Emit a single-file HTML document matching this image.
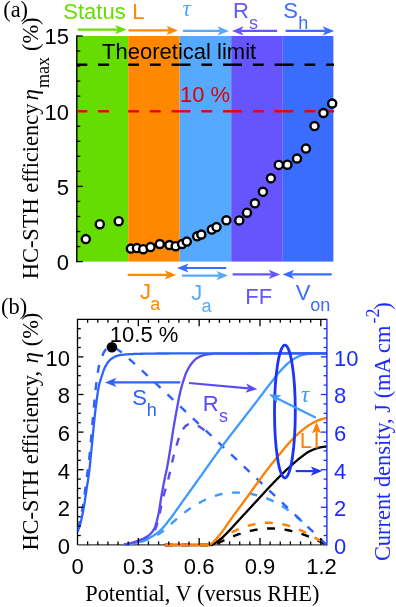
<!DOCTYPE html>
<html><head><meta charset="utf-8"><title>Figure</title>
<style>html,body{margin:0;padding:0;background:#fff;width:396px;height:607px;overflow:hidden}svg{display:block}</style>
</head><body>
<svg width="396" height="607" viewBox="0 0 396 607"><rect x="76.8" y="36.00" width="51.40" height="225.60" fill="#66dd00"/>
<rect x="128.2" y="36.00" width="51.50" height="225.60" fill="#ff8800"/>
<rect x="179.7" y="36.00" width="51.50" height="225.60" fill="#55aaff"/>
<rect x="231.2" y="36.00" width="51.60" height="225.60" fill="#6655ff"/>
<rect x="282.8" y="36.00" width="50.60" height="225.60" fill="#3a6cff"/>
<line x1="76.8" y1="35.40" x2="76.8" y2="262.20" stroke="#000" stroke-width="1.4"/>
<line x1="76.8" y1="261.60" x2="82.8" y2="261.60" stroke="#000" stroke-width="1.3"/>
<line x1="76.8" y1="246.56" x2="80.3" y2="246.56" stroke="#000" stroke-width="1.3"/>
<line x1="76.8" y1="231.52" x2="80.3" y2="231.52" stroke="#000" stroke-width="1.3"/>
<line x1="76.8" y1="216.48" x2="80.3" y2="216.48" stroke="#000" stroke-width="1.3"/>
<line x1="76.8" y1="201.44" x2="80.3" y2="201.44" stroke="#000" stroke-width="1.3"/>
<line x1="76.8" y1="186.40" x2="82.8" y2="186.40" stroke="#000" stroke-width="1.3"/>
<line x1="76.8" y1="171.36" x2="80.3" y2="171.36" stroke="#000" stroke-width="1.3"/>
<line x1="76.8" y1="156.32" x2="80.3" y2="156.32" stroke="#000" stroke-width="1.3"/>
<line x1="76.8" y1="141.28" x2="80.3" y2="141.28" stroke="#000" stroke-width="1.3"/>
<line x1="76.8" y1="126.24" x2="80.3" y2="126.24" stroke="#000" stroke-width="1.3"/>
<line x1="76.8" y1="111.20" x2="82.8" y2="111.20" stroke="#000" stroke-width="1.3"/>
<line x1="76.8" y1="96.16" x2="80.3" y2="96.16" stroke="#000" stroke-width="1.3"/>
<line x1="76.8" y1="81.12" x2="80.3" y2="81.12" stroke="#000" stroke-width="1.3"/>
<line x1="76.8" y1="66.08" x2="80.3" y2="66.08" stroke="#000" stroke-width="1.3"/>
<line x1="76.8" y1="51.04" x2="80.3" y2="51.04" stroke="#000" stroke-width="1.3"/>
<line x1="76.8" y1="36.00" x2="82.8" y2="36.00" stroke="#000" stroke-width="1.3"/>
<text x="68.9" y="44.30" font-family="Liberation Sans, Arial, sans-serif" font-size="22" text-anchor="end">15</text>
<text x="68.9" y="119.50" font-family="Liberation Sans, Arial, sans-serif" font-size="22" text-anchor="end">10</text>
<text x="68.9" y="194.70" font-family="Liberation Sans, Arial, sans-serif" font-size="22" text-anchor="end">5</text>
<text x="68.9" y="269.90" font-family="Liberation Sans, Arial, sans-serif" font-size="22" text-anchor="end">0</text>
<line x1="76.8" y1="64.7" x2="87.3" y2="64.7" stroke="#000" stroke-width="2.4"/>
<line x1="98.0" y1="64.7" x2="109.1" y2="64.7" stroke="#000" stroke-width="2.4"/>
<line x1="128.2" y1="64.7" x2="139.0" y2="64.7" stroke="#000" stroke-width="2.4"/>
<line x1="149.89999999999998" y1="64.7" x2="160.7" y2="64.7" stroke="#000" stroke-width="2.4"/>
<line x1="171.59999999999997" y1="64.7" x2="179.7" y2="64.7" stroke="#000" stroke-width="2.4"/>
<line x1="179.7" y1="64.7" x2="190.5" y2="64.7" stroke="#000" stroke-width="2.4"/>
<line x1="201.39999999999998" y1="64.7" x2="212.2" y2="64.7" stroke="#000" stroke-width="2.4"/>
<line x1="223.09999999999997" y1="64.7" x2="231.2" y2="64.7" stroke="#000" stroke-width="2.4"/>
<line x1="231.2" y1="64.7" x2="242.0" y2="64.7" stroke="#000" stroke-width="2.4"/>
<line x1="252.89999999999998" y1="64.7" x2="263.7" y2="64.7" stroke="#000" stroke-width="2.4"/>
<line x1="274.59999999999997" y1="64.7" x2="282.8" y2="64.7" stroke="#000" stroke-width="2.4"/>
<line x1="282.8" y1="64.7" x2="293.6" y2="64.7" stroke="#000" stroke-width="2.4"/>
<line x1="304.5" y1="64.7" x2="315.3" y2="64.7" stroke="#000" stroke-width="2.4"/>
<line x1="326.2" y1="64.7" x2="334" y2="64.7" stroke="#000" stroke-width="2.4"/>
<line x1="76.8" y1="111.3" x2="87.3" y2="111.3" stroke="#ee0000" stroke-width="2.4"/>
<line x1="98.0" y1="111.3" x2="109.1" y2="111.3" stroke="#ee0000" stroke-width="2.4"/>
<line x1="128.2" y1="111.3" x2="139.0" y2="111.3" stroke="#ee0000" stroke-width="2.4"/>
<line x1="149.89999999999998" y1="111.3" x2="160.7" y2="111.3" stroke="#ee0000" stroke-width="2.4"/>
<line x1="171.59999999999997" y1="111.3" x2="179.7" y2="111.3" stroke="#ee0000" stroke-width="2.4"/>
<line x1="179.7" y1="111.3" x2="190.5" y2="111.3" stroke="#ee0000" stroke-width="2.4"/>
<line x1="201.39999999999998" y1="111.3" x2="212.2" y2="111.3" stroke="#ee0000" stroke-width="2.4"/>
<line x1="223.09999999999997" y1="111.3" x2="231.2" y2="111.3" stroke="#ee0000" stroke-width="2.4"/>
<line x1="231.2" y1="111.3" x2="242.0" y2="111.3" stroke="#ee0000" stroke-width="2.4"/>
<line x1="252.89999999999998" y1="111.3" x2="263.7" y2="111.3" stroke="#ee0000" stroke-width="2.4"/>
<line x1="274.59999999999997" y1="111.3" x2="282.8" y2="111.3" stroke="#ee0000" stroke-width="2.4"/>
<line x1="282.8" y1="111.3" x2="293.6" y2="111.3" stroke="#ee0000" stroke-width="2.4"/>
<line x1="304.5" y1="111.3" x2="315.3" y2="111.3" stroke="#ee0000" stroke-width="2.4"/>
<line x1="326.2" y1="111.3" x2="334" y2="111.3" stroke="#ee0000" stroke-width="2.4"/>
<text x="102.1" y="58.8" font-family="Liberation Sans, Arial, sans-serif" font-size="22">Theoretical limit</text>
<text x="180" y="102.0" font-family="Liberation Sans, Arial, sans-serif" font-size="22" fill="#e00000">10 %</text>
<circle cx="85.8" cy="239.1" r="4.05" fill="#fff" stroke="#000" stroke-width="2.4"/>
<circle cx="99.8" cy="224.2" r="4.05" fill="#fff" stroke="#000" stroke-width="2.4"/>
<circle cx="118.7" cy="221.2" r="4.05" fill="#fff" stroke="#000" stroke-width="2.4"/>
<circle cx="130.9" cy="248.6" r="4.05" fill="#fff" stroke="#000" stroke-width="2.4"/>
<circle cx="136.9" cy="248.1" r="4.05" fill="#fff" stroke="#000" stroke-width="2.4"/>
<circle cx="143.2" cy="249.2" r="4.05" fill="#fff" stroke="#000" stroke-width="2.4"/>
<circle cx="150.5" cy="247.1" r="4.05" fill="#fff" stroke="#000" stroke-width="2.4"/>
<circle cx="159.8" cy="244.0" r="4.05" fill="#fff" stroke="#000" stroke-width="2.4"/>
<circle cx="169.4" cy="245.0" r="4.05" fill="#fff" stroke="#000" stroke-width="2.4"/>
<circle cx="175.7" cy="246.2" r="4.05" fill="#fff" stroke="#000" stroke-width="2.4"/>
<circle cx="182.1" cy="244.0" r="4.05" fill="#fff" stroke="#000" stroke-width="2.4"/>
<circle cx="186.8" cy="241.6" r="4.05" fill="#fff" stroke="#000" stroke-width="2.4"/>
<circle cx="197.2" cy="236.3" r="4.05" fill="#fff" stroke="#000" stroke-width="2.4"/>
<circle cx="201.3" cy="234.5" r="4.05" fill="#fff" stroke="#000" stroke-width="2.4"/>
<circle cx="211.8" cy="229.6" r="4.05" fill="#fff" stroke="#000" stroke-width="2.4"/>
<circle cx="216.5" cy="227.1" r="4.05" fill="#fff" stroke="#000" stroke-width="2.4"/>
<circle cx="226.4" cy="220.3" r="4.05" fill="#fff" stroke="#000" stroke-width="2.4"/>
<circle cx="239.3" cy="220.4" r="4.05" fill="#fff" stroke="#000" stroke-width="2.4"/>
<circle cx="247.0" cy="212.7" r="4.05" fill="#fff" stroke="#000" stroke-width="2.4"/>
<circle cx="254.9" cy="203.3" r="4.05" fill="#fff" stroke="#000" stroke-width="2.4"/>
<circle cx="262.9" cy="191.8" r="4.05" fill="#fff" stroke="#000" stroke-width="2.4"/>
<circle cx="270.9" cy="178.3" r="4.05" fill="#fff" stroke="#000" stroke-width="2.4"/>
<circle cx="278.8" cy="164.9" r="4.05" fill="#fff" stroke="#000" stroke-width="2.4"/>
<circle cx="287.4" cy="164.7" r="4.05" fill="#fff" stroke="#000" stroke-width="2.4"/>
<circle cx="297.0" cy="158.5" r="4.05" fill="#fff" stroke="#000" stroke-width="2.4"/>
<circle cx="305.9" cy="148.6" r="4.05" fill="#fff" stroke="#000" stroke-width="2.4"/>
<circle cx="314.5" cy="126.1" r="4.05" fill="#fff" stroke="#000" stroke-width="2.4"/>
<circle cx="323.4" cy="113.0" r="4.05" fill="#fff" stroke="#000" stroke-width="2.4"/>
<circle cx="332.2" cy="103.5" r="4.05" fill="#fff" stroke="#000" stroke-width="2.4"/>
<text x="63.3" y="18.6" font-family="Liberation Sans, Arial, sans-serif" font-size="22" fill="#66dd00" >Status</text>
<line x1="77.70" y1="29.60" x2="117.90" y2="29.60" stroke="#66dd00" stroke-width="2.1"/><polygon points="126.60,29.60 115.10,34.20 117.90,29.60 115.10,25.00" fill="#66dd00"/>
<text x="132.2" y="19.0" font-family="Liberation Sans, Arial, sans-serif" font-size="22" fill="#ff8800" >L</text>
<line x1="128.50" y1="30.40" x2="169.30" y2="30.40" stroke="#ff8800" stroke-width="2.1"/><polygon points="178.00,30.40 166.50,35.00 169.30,30.40 166.50,25.80" fill="#ff8800"/>
<text x="182.4" y="15.6" font-family="Liberation Serif, Times New Roman, serif" font-size="23" fill="#55aaff" font-style="italic">τ</text>
<line x1="183.00" y1="30.90" x2="220.30" y2="30.90" stroke="#55aaff" stroke-width="2.1"/><polygon points="229.00,30.90 217.50,35.50 220.30,30.90 217.50,26.30" fill="#55aaff"/>
<text x="233.1" y="17.5" font-family="Liberation Sans, Arial, sans-serif" font-size="22" fill="#6655ff" >R</text>
<text x="249.1" y="29.0" font-family="Liberation Sans, Arial, sans-serif" font-size="18" fill="#6655ff" >s</text>
<line x1="277.10" y1="30.90" x2="240.70" y2="30.90" stroke="#6655ff" stroke-width="2.1"/><polygon points="232.00,30.90 243.50,26.30 240.70,30.90 243.50,35.50" fill="#6655ff"/>
<text x="283.2" y="17.5" font-family="Liberation Sans, Arial, sans-serif" font-size="22" fill="#3a6cff" >S</text>
<text x="298.3" y="29.0" font-family="Liberation Sans, Arial, sans-serif" font-size="18" fill="#3a6cff" >h</text>
<line x1="285.60" y1="30.90" x2="325.50" y2="30.90" stroke="#3a6cff" stroke-width="2.1"/><polygon points="334.20,30.90 322.70,35.50 325.50,30.90 322.70,26.30" fill="#3a6cff"/>
<line x1="127.70" y1="274.90" x2="167.50" y2="274.90" stroke="#ff8800" stroke-width="2.1"/><polygon points="176.20,274.90 164.70,279.50 167.50,274.90 164.70,270.30" fill="#ff8800"/>
<line x1="226.20" y1="268.00" x2="185.70" y2="268.00" stroke="#3a6cff" stroke-width="2.1"/><polygon points="177.00,268.00 188.50,263.40 185.70,268.00 188.50,272.60" fill="#3a6cff"/>
<line x1="182.00" y1="275.60" x2="219.30" y2="275.60" stroke="#55aaff" stroke-width="2.1"/><polygon points="228.00,275.60 216.50,280.20 219.30,275.60 216.50,271.00" fill="#55aaff"/>
<line x1="232.60" y1="274.40" x2="271.50" y2="274.40" stroke="#6655ff" stroke-width="2.1"/><polygon points="280.20,274.40 268.70,279.00 271.50,274.40 268.70,269.80" fill="#6655ff"/>
<line x1="331.70" y1="274.40" x2="291.30" y2="274.40" stroke="#3a6cff" stroke-width="2.1"/><polygon points="282.60,274.40 294.10,269.80 291.30,274.40 294.10,279.00" fill="#3a6cff"/>
<text x="139.9" y="299.0" font-family="Liberation Sans, Arial, sans-serif" font-size="22" fill="#ff8800" >J</text>
<text x="150.3" y="309.8" font-family="Liberation Sans, Arial, sans-serif" font-size="18" fill="#ff8800" >a</text>
<text x="191.3" y="300.0" font-family="Liberation Sans, Arial, sans-serif" font-size="22" fill="#55aaff" >J</text>
<text x="201.4" y="311.8" font-family="Liberation Sans, Arial, sans-serif" font-size="18" fill="#55aaff" >a</text>
<text x="245.2" y="303.7" font-family="Liberation Sans, Arial, sans-serif" font-size="22" fill="#6655ff" >FF</text>
<text x="295.7" y="299.8" font-family="Liberation Sans, Arial, sans-serif" font-size="22" fill="#3a6cff" >V</text>
<text x="310.2" y="310.8" font-family="Liberation Sans, Arial, sans-serif" font-size="18" fill="#3a6cff" >on</text>
<text x="3.2" y="17.3" font-family="Liberation Serif, Times New Roman, serif" font-size="22.4" fill="#000" >(a)</text>
<text transform="translate(37.8,279.2) rotate(-90)" font-family="Liberation Serif, Times New Roman, serif" font-size="22.4" >HC-STH efficiency</text>
<text transform="translate(37.8,100.2) rotate(-90)" font-family="Liberation Serif, Times New Roman, serif" font-size="22.4" font-style="italic">η</text>
<text transform="translate(49.2,87.9) rotate(-90)" font-family="Liberation Serif, Times New Roman, serif" font-size="18" >max</text>
<text transform="translate(37.8,51.0) rotate(-90)" font-family="Liberation Serif, Times New Roman, serif" font-size="22.4" >(%)</text>
<clipPath id="cb"><rect x="77.5" y="319.1" width="249.4" height="228"/></clipPath>
<path d="M326.89,319.29999999999995 L77.5,319.29999999999995 L77.5,544.9" fill="none" stroke="#000" stroke-width="1.3"/>
<line x1="77.5" y1="544.9" x2="326.89" y2="544.9" stroke="#383838" stroke-width="1.3"/>
<g clip-path="url(#cb)" fill="none" stroke-linejoin="round">
<path d="M164.80,544.98 L165.21,544.98 L165.61,544.98 L166.02,544.98 L166.43,544.98 L166.83,544.98 L167.24,544.98 L167.64,544.98 L168.05,544.98 L168.46,544.98 L168.86,544.98 L169.27,544.98 L169.68,544.98 L170.08,544.98 L170.49,544.98 L170.89,544.98 L171.30,544.98 L171.71,544.98 L172.11,544.98 L172.52,544.98 L172.93,544.98 L173.33,544.98 L173.74,544.98 L174.14,544.98 L174.55,544.98 L174.96,544.97 L175.36,544.97 L175.77,544.97 L176.18,544.97 L176.58,544.97 L176.99,544.97 L177.39,544.97 L177.80,544.97 L178.21,544.97 L178.61,544.97 L179.02,544.97 L179.43,544.97 L179.83,544.97 L180.24,544.97 L180.64,544.97 L181.05,544.97 L181.46,544.97 L181.86,544.97 L182.27,544.97 L182.68,544.97 L183.08,544.97 L183.49,544.97 L183.89,544.97 L184.30,544.97 L184.71,544.97 L185.11,544.97 L185.52,544.97 L185.93,544.97 L186.33,544.97 L186.74,544.97 L187.14,544.97 L187.55,544.97 L187.96,544.97 L188.36,544.97 L188.77,544.97 L189.18,544.97 L189.58,544.97 L189.99,544.97 L190.39,544.97 L190.80,544.97 L191.21,544.97 L191.61,544.97 L192.02,544.97 L192.43,544.97 L192.83,544.97 L193.24,544.97 L193.64,544.97 L194.05,544.97 L194.46,544.97 L194.86,544.97 L195.27,544.96 L195.68,544.96 L196.08,544.96 L196.49,544.96 L196.89,544.96 L197.30,544.96 L197.71,544.96 L198.11,544.96 L198.52,544.96 L198.93,544.96 L199.33,544.96 L199.74,544.96 L200.15,544.96 L200.55,544.96 L200.96,544.96 L201.36,544.96 L201.77,544.96 L202.18,544.96 L202.58,544.96 L202.99,544.96 L203.40,544.96 L203.80,544.96 L204.21,544.96 L204.61,544.96 L205.02,544.96 L205.43,544.96 L205.83,544.96 L206.24,544.96 L206.65,544.96 L207.05,544.96 L207.46,544.96 L207.86,544.96 L208.27,544.96 L208.68,544.96 L209.08,544.96 L209.49,544.96 L209.90,544.96 L210.30,544.96 L210.71,544.96 L211.11,544.96 L211.52,544.93 L211.93,544.87 L212.33,544.78 L212.74,544.68 L213.15,544.56 L213.55,544.43 L213.96,544.30 L214.36,544.16 L214.77,544.03 L215.18,543.91 L215.58,543.78 L215.99,543.65 L216.40,543.51 L216.80,543.36 L217.21,543.21 L217.61,543.06 L218.02,542.90 L218.43,542.74 L218.83,542.57 L219.24,542.41 L219.65,542.25 L220.05,542.08 L220.46,541.92 L220.86,541.75 L221.27,541.58 L221.68,541.40 L222.08,541.23 L222.49,541.05 L222.90,540.87 L223.30,540.68 L223.71,540.50 L224.11,540.32 L224.52,540.14 L224.93,539.95 L225.33,539.77 L225.74,539.59 L226.15,539.41 L226.55,539.23 L226.96,539.05 L227.36,538.87 L227.77,538.70 L228.18,538.52 L228.58,538.34 L228.99,538.16 L229.40,537.98 L229.80,537.80 L230.21,537.62 L230.62,537.45 L231.02,537.27 L231.43,537.10 L231.83,536.92 L232.24,536.75 L232.65,536.58 L233.05,536.41 L233.46,536.24 L233.87,536.07 L234.27,535.90 L234.68,535.74 L235.08,535.57 L235.49,535.41 L235.90,535.25 L236.30,535.09 L236.71,534.94 L237.12,534.78 L237.52,534.63 L237.93,534.48 L238.33,534.34 L238.74,534.19 L239.15,534.05 L239.55,533.91 L239.96,533.77 L240.37,533.64 L240.77,533.50 L241.18,533.37 L241.58,533.24 L241.99,533.11 L242.40,532.99 L242.80,532.86 L243.21,532.74 L243.62,532.62 L244.02,532.50 L244.43,532.38 L244.83,532.26 L245.24,532.15 L245.65,532.04 L246.05,531.93 L246.46,531.82 L246.87,531.71 L247.27,531.60 L247.68,531.50 L248.08,531.40 L248.49,531.30 L248.90,531.20 L249.30,531.10 L249.71,531.01 L250.12,530.92 L250.52,530.82 L250.93,530.73 L251.33,530.65 L251.74,530.56 L252.15,530.48 L252.55,530.39 L252.96,530.31 L253.37,530.23 L253.77,530.15 L254.18,530.08 L254.58,530.00 L254.99,529.93 L255.40,529.86 L255.80,529.79 L256.21,529.73 L256.62,529.66 L257.02,529.60 L257.43,529.53 L257.83,529.47 L258.24,529.41 L258.65,529.36 L259.05,529.30 L259.46,529.25 L259.87,529.19 L260.27,529.14 L260.68,529.09 L261.08,529.05 L261.49,529.00 L261.90,528.96 L262.30,528.91 L262.71,528.87 L263.12,528.84 L263.52,528.80 L263.93,528.76 L264.34,528.73 L264.74,528.70 L265.15,528.67 L265.55,528.65 L265.96,528.62 L266.37,528.60 L266.77,528.58 L267.18,528.56 L267.59,528.54 L267.99,528.53 L268.40,528.52 L268.80,528.50 L269.21,528.50 L269.62,528.49 L270.02,528.49 L270.43,528.48 L270.84,528.48 L271.24,528.49 L271.65,528.49 L272.05,528.49 L272.46,528.50 L272.87,528.51 L273.27,528.52 L273.68,528.53 L274.09,528.55 L274.49,528.57 L274.90,528.58 L275.30,528.60 L275.71,528.63 L276.12,528.65 L276.52,528.68 L276.93,528.71 L277.34,528.74 L277.74,528.77 L278.15,528.80 L278.55,528.84 L278.96,528.88 L279.37,528.92 L279.77,528.96 L280.18,529.01 L280.59,529.05 L280.99,529.10 L281.40,529.15 L281.80,529.20 L282.21,529.26 L282.62,529.31 L283.02,529.37 L283.43,529.43 L283.84,529.49 L284.24,529.56 L284.65,529.62 L285.05,529.69 L285.46,529.76 L285.87,529.83 L286.27,529.90 L286.68,529.97 L287.09,530.05 L287.49,530.13 L287.90,530.21 L288.30,530.29 L288.71,530.37 L289.12,530.46 L289.52,530.54 L289.93,530.63 L290.34,530.72 L290.74,530.81 L291.15,530.91 L291.55,531.00 L291.96,531.10 L292.37,531.20 L292.77,531.30 L293.18,531.40 L293.59,531.50 L293.99,531.61 L294.40,531.71 L294.81,531.82 L295.21,531.93 L295.62,532.05 L296.02,532.16 L296.43,532.27 L296.84,532.39 L297.24,532.51 L297.65,532.63 L298.06,532.76 L298.46,532.88 L298.87,533.01 L299.27,533.14 L299.68,533.27 L300.09,533.40 L300.49,533.53 L300.90,533.67 L301.31,533.80 L301.71,533.94 L302.12,534.08 L302.52,534.22 L302.93,534.36 L303.34,534.50 L303.74,534.65 L304.15,534.79 L304.56,534.94 L304.96,535.09 L305.37,535.24 L305.77,535.39 L306.18,535.55 L306.59,535.70 L306.99,535.86 L307.40,536.02 L307.81,536.18 L308.21,536.35 L308.62,536.51 L309.02,536.68 L309.43,536.84 L309.84,537.01 L310.24,537.19 L310.65,537.36 L311.06,537.53 L311.46,537.71 L311.87,537.88 L312.27,538.06 L312.68,538.24 L313.09,538.42 L313.49,538.60 L313.90,538.78 L314.31,538.96 L314.71,539.14 L315.12,539.32 L315.52,539.51 L315.93,539.69 L316.34,539.88 L316.74,540.07 L317.15,540.25 L317.56,540.44 L317.96,540.63 L318.37,540.82 L318.77,541.01 L319.18,541.20 L319.59,541.39 L319.99,541.58 L320.40,541.78 L320.81,541.97 L321.21,542.16 L321.62,542.36 L322.02,542.55 L322.43,542.75 L322.84,542.94 L323.24,543.14 L323.65,543.33 L324.06,543.53 L324.46,543.72 L324.87,543.92 L325.27,544.11 L325.68,544.31 L326.09,544.51 L326.49,544.71 L326.90,544.90" stroke="#000" stroke-width="2.4" stroke-dasharray="8 9.5"/>
<path d="M164.80,544.98 L165.21,544.98 L165.61,544.98 L166.02,544.98 L166.43,544.98 L166.83,544.98 L167.24,544.98 L167.64,544.98 L168.05,544.98 L168.46,544.98 L168.86,544.98 L169.27,544.98 L169.68,544.98 L170.08,544.98 L170.49,544.98 L170.89,544.98 L171.30,544.98 L171.71,544.98 L172.11,544.98 L172.52,544.98 L172.93,544.98 L173.33,544.98 L173.74,544.98 L174.14,544.98 L174.55,544.98 L174.96,544.97 L175.36,544.97 L175.77,544.97 L176.18,544.97 L176.58,544.97 L176.99,544.97 L177.39,544.97 L177.80,544.97 L178.21,544.97 L178.61,544.97 L179.02,544.97 L179.43,544.97 L179.83,544.97 L180.24,544.97 L180.64,544.97 L181.05,544.97 L181.46,544.97 L181.86,544.97 L182.27,544.97 L182.68,544.97 L183.08,544.97 L183.49,544.97 L183.89,544.97 L184.30,544.97 L184.71,544.97 L185.11,544.97 L185.52,544.97 L185.93,544.97 L186.33,544.97 L186.74,544.97 L187.14,544.97 L187.55,544.97 L187.96,544.97 L188.36,544.97 L188.77,544.97 L189.18,544.97 L189.58,544.97 L189.99,544.97 L190.39,544.97 L190.80,544.97 L191.21,544.97 L191.61,544.97 L192.02,544.97 L192.43,544.97 L192.83,544.97 L193.24,544.97 L193.64,544.97 L194.05,544.97 L194.46,544.97 L194.86,544.97 L195.27,544.96 L195.68,544.96 L196.08,544.96 L196.49,544.96 L196.89,544.96 L197.30,544.96 L197.71,544.96 L198.11,544.96 L198.52,544.96 L198.93,544.96 L199.33,544.96 L199.74,544.96 L200.15,544.96 L200.55,544.96 L200.96,544.96 L201.36,544.96 L201.77,544.96 L202.18,544.96 L202.58,544.96 L202.99,544.96 L203.40,544.96 L203.80,544.96 L204.21,544.96 L204.61,544.96 L205.02,544.96 L205.43,544.96 L205.83,544.96 L206.24,544.96 L206.65,544.96 L207.05,544.96 L207.46,544.96 L207.86,544.96 L208.27,544.93 L208.68,544.87 L209.08,544.79 L209.49,544.70 L209.90,544.59 L210.30,544.47 L210.71,544.36 L211.11,544.24 L211.52,544.10 L211.93,543.93 L212.33,543.75 L212.74,543.55 L213.15,543.33 L213.55,543.11 L213.96,542.88 L214.36,542.65 L214.77,542.43 L215.18,542.21 L215.58,541.99 L215.99,541.77 L216.40,541.54 L216.80,541.31 L217.21,541.07 L217.61,540.84 L218.02,540.60 L218.43,540.35 L218.83,540.11 L219.24,539.87 L219.65,539.62 L220.05,539.38 L220.46,539.13 L220.86,538.88 L221.27,538.64 L221.68,538.39 L222.08,538.15 L222.49,537.90 L222.90,537.64 L223.30,537.39 L223.71,537.13 L224.11,536.87 L224.52,536.61 L224.93,536.34 L225.33,536.08 L225.74,535.82 L226.15,535.56 L226.55,535.30 L226.96,535.05 L227.36,534.79 L227.77,534.54 L228.18,534.29 L228.58,534.05 L228.99,533.81 L229.40,533.58 L229.80,533.35 L230.21,533.13 L230.62,532.91 L231.02,532.69 L231.43,532.47 L231.83,532.26 L232.24,532.05 L232.65,531.85 L233.05,531.65 L233.46,531.45 L233.87,531.25 L234.27,531.05 L234.68,530.86 L235.08,530.67 L235.49,530.48 L235.90,530.30 L236.30,530.12 L236.71,529.94 L237.12,529.76 L237.52,529.59 L237.93,529.41 L238.33,529.24 L238.74,529.07 L239.15,528.91 L239.55,528.75 L239.96,528.58 L240.37,528.43 L240.77,528.27 L241.18,528.11 L241.58,527.96 L241.99,527.81 L242.40,527.66 L242.80,527.52 L243.21,527.37 L243.62,527.23 L244.02,527.09 L244.43,526.95 L244.83,526.82 L245.24,526.68 L245.65,526.55 L246.05,526.42 L246.46,526.29 L246.87,526.17 L247.27,526.04 L247.68,525.92 L248.08,525.80 L248.49,525.68 L248.90,525.56 L249.30,525.45 L249.71,525.34 L250.12,525.23 L250.52,525.12 L250.93,525.02 L251.33,524.91 L251.74,524.81 L252.15,524.71 L252.55,524.62 L252.96,524.52 L253.37,524.43 L253.77,524.34 L254.18,524.26 L254.58,524.17 L254.99,524.09 L255.40,524.01 L255.80,523.93 L256.21,523.85 L256.62,523.78 L257.02,523.70 L257.43,523.63 L257.83,523.57 L258.24,523.50 L258.65,523.44 L259.05,523.38 L259.46,523.33 L259.87,523.27 L260.27,523.22 L260.68,523.18 L261.08,523.13 L261.49,523.09 L261.90,523.05 L262.30,523.02 L262.71,522.98 L263.12,522.95 L263.52,522.92 L263.93,522.90 L264.34,522.87 L264.74,522.85 L265.15,522.83 L265.55,522.81 L265.96,522.80 L266.37,522.79 L266.77,522.78 L267.18,522.77 L267.59,522.77 L267.99,522.77 L268.40,522.77 L268.80,522.77 L269.21,522.78 L269.62,522.79 L270.02,522.80 L270.43,522.81 L270.84,522.83 L271.24,522.84 L271.65,522.86 L272.05,522.89 L272.46,522.91 L272.87,522.94 L273.27,522.97 L273.68,523.00 L274.09,523.03 L274.49,523.07 L274.90,523.11 L275.30,523.15 L275.71,523.19 L276.12,523.24 L276.52,523.29 L276.93,523.34 L277.34,523.39 L277.74,523.44 L278.15,523.50 L278.55,523.56 L278.96,523.62 L279.37,523.69 L279.77,523.76 L280.18,523.82 L280.59,523.90 L280.99,523.97 L281.40,524.04 L281.80,524.12 L282.21,524.20 L282.62,524.28 L283.02,524.36 L283.43,524.45 L283.84,524.54 L284.24,524.63 L284.65,524.72 L285.05,524.81 L285.46,524.91 L285.87,525.01 L286.27,525.11 L286.68,525.21 L287.09,525.32 L287.49,525.43 L287.90,525.54 L288.30,525.66 L288.71,525.77 L289.12,525.89 L289.52,526.01 L289.93,526.14 L290.34,526.27 L290.74,526.40 L291.15,526.53 L291.55,526.66 L291.96,526.80 L292.37,526.94 L292.77,527.08 L293.18,527.22 L293.59,527.37 L293.99,527.51 L294.40,527.66 L294.81,527.81 L295.21,527.97 L295.62,528.12 L296.02,528.28 L296.43,528.44 L296.84,528.60 L297.24,528.76 L297.65,528.93 L298.06,529.10 L298.46,529.27 L298.87,529.44 L299.27,529.62 L299.68,529.79 L300.09,529.97 L300.49,530.16 L300.90,530.34 L301.31,530.52 L301.71,530.71 L302.12,530.90 L302.52,531.09 L302.93,531.28 L303.34,531.47 L303.74,531.66 L304.15,531.86 L304.56,532.06 L304.96,532.26 L305.37,532.46 L305.77,532.66 L306.18,532.86 L306.59,533.07 L306.99,533.28 L307.40,533.49 L307.81,533.70 L308.21,533.91 L308.62,534.13 L309.02,534.34 L309.43,534.56 L309.84,534.78 L310.24,535.00 L310.65,535.22 L311.06,535.45 L311.46,535.67 L311.87,535.90 L312.27,536.13 L312.68,536.35 L313.09,536.58 L313.49,536.81 L313.90,537.05 L314.31,537.28 L314.71,537.51 L315.12,537.75 L315.52,537.98 L315.93,538.22 L316.34,538.46 L316.74,538.70 L317.15,538.94 L317.56,539.18 L317.96,539.42 L318.37,539.66 L318.77,539.90 L319.18,540.15 L319.59,540.39 L319.99,540.64 L320.40,540.89 L320.81,541.13 L321.21,541.38 L321.62,541.63 L322.02,541.88 L322.43,542.13 L322.84,542.38 L323.24,542.63 L323.65,542.88 L324.06,543.13 L324.46,543.38 L324.87,543.64 L325.27,543.89 L325.68,544.14 L326.09,544.39 L326.49,544.65 L326.90,544.90" stroke="#ff7f00" stroke-width="2.4" stroke-dasharray="8 9.5"/>
<path d="M124.00,544.80 L124.51,544.77 L125.02,544.74 L125.53,544.70 L126.03,544.65 L126.54,544.60 L127.05,544.54 L127.56,544.48 L128.07,544.41 L128.58,544.34 L129.09,544.27 L129.59,544.19 L130.10,544.11 L130.61,544.02 L131.12,543.93 L131.63,543.83 L132.14,543.74 L132.64,543.64 L133.15,543.54 L133.66,543.43 L134.17,543.32 L134.68,543.22 L135.19,543.10 L135.70,542.99 L136.20,542.88 L136.71,542.76 L137.22,542.65 L137.73,542.53 L138.24,542.41 L138.75,542.29 L139.26,542.17 L139.76,542.06 L140.27,541.94 L140.78,541.81 L141.29,541.68 L141.80,541.54 L142.31,541.39 L142.82,541.24 L143.32,541.08 L143.83,540.91 L144.34,540.74 L144.85,540.56 L145.36,540.37 L145.87,540.19 L146.37,539.99 L146.88,539.80 L147.39,539.60 L147.90,539.39 L148.41,539.19 L148.92,538.98 L149.43,538.77 L149.93,538.56 L150.44,538.34 L150.95,538.12 L151.46,537.90 L151.97,537.66 L152.48,537.43 L152.99,537.18 L153.49,536.93 L154.00,536.67 L154.51,536.41 L155.02,536.14 L155.53,535.87 L156.04,535.59 L156.55,535.31 L157.05,535.01 L157.56,534.72 L158.07,534.41 L158.58,534.10 L159.09,533.79 L159.60,533.47 L160.11,533.14 L160.61,532.80 L161.12,532.44 L161.63,532.07 L162.14,531.68 L162.65,531.28 L163.16,530.87 L163.66,530.44 L164.17,530.01 L164.68,529.57 L165.19,529.13 L165.70,528.68 L166.21,528.22 L166.72,527.77 L167.22,527.31 L167.73,526.85 L168.24,526.40 L168.75,525.95 L169.26,525.50 L169.77,525.06 L170.28,524.62 L170.78,524.18 L171.29,523.73 L171.80,523.28 L172.31,522.83 L172.82,522.37 L173.33,521.92 L173.84,521.46 L174.34,521.00 L174.85,520.54 L175.36,520.08 L175.87,519.62 L176.38,519.16 L176.89,518.71 L177.39,518.26 L177.90,517.82 L178.41,517.38 L178.92,516.95 L179.43,516.52 L179.94,516.10 L180.45,515.69 L180.95,515.28 L181.46,514.88 L181.97,514.47 L182.48,514.08 L182.99,513.68 L183.50,513.29 L184.01,512.90 L184.51,512.52 L185.02,512.14 L185.53,511.76 L186.04,511.39 L186.55,511.02 L187.06,510.65 L187.57,510.29 L188.07,509.93 L188.58,509.57 L189.09,509.22 L189.60,508.87 L190.11,508.52 L190.62,508.18 L191.12,507.84 L191.63,507.51 L192.14,507.18 L192.65,506.85 L193.16,506.53 L193.67,506.20 L194.18,505.89 L194.68,505.57 L195.19,505.26 L195.70,504.96 L196.21,504.65 L196.72,504.35 L197.23,504.06 L197.74,503.77 L198.24,503.48 L198.75,503.19 L199.26,502.91 L199.77,502.63 L200.28,502.36 L200.79,502.08 L201.30,501.81 L201.80,501.55 L202.31,501.29 L202.82,501.03 L203.33,500.77 L203.84,500.51 L204.35,500.26 L204.85,500.01 L205.36,499.77 L205.87,499.53 L206.38,499.29 L206.89,499.06 L207.40,498.83 L207.91,498.60 L208.41,498.38 L208.92,498.16 L209.43,497.94 L209.94,497.73 L210.45,497.52 L210.96,497.32 L211.47,497.12 L211.97,496.92 L212.48,496.73 L212.99,496.54 L213.50,496.36 L214.01,496.18 L214.52,496.00 L215.03,495.83 L215.53,495.67 L216.04,495.50 L216.55,495.35 L217.06,495.19 L217.57,495.05 L218.08,494.90 L218.58,494.76 L219.09,494.63 L219.60,494.50 L220.11,494.37 L220.62,494.25 L221.13,494.14 L221.64,494.03 L222.14,493.92 L222.65,493.82 L223.16,493.72 L223.67,493.63 L224.18,493.54 L224.69,493.46 L225.20,493.38 L225.70,493.30 L226.21,493.23 L226.72,493.16 L227.23,493.10 L227.74,493.04 L228.25,492.98 L228.76,492.93 L229.26,492.88 L229.77,492.84 L230.28,492.80 L230.79,492.76 L231.30,492.72 L231.81,492.69 L232.32,492.67 L232.82,492.64 L233.33,492.62 L233.84,492.61 L234.35,492.59 L234.86,492.58 L235.37,492.58 L235.87,492.57 L236.38,492.57 L236.89,492.58 L237.40,492.58 L237.91,492.59 L238.42,492.60 L238.93,492.62 L239.43,492.64 L239.94,492.66 L240.45,492.68 L240.96,492.71 L241.47,492.74 L241.98,492.77 L242.49,492.81 L242.99,492.85 L243.50,492.90 L244.01,492.95 L244.52,493.00 L245.03,493.05 L245.54,493.11 L246.05,493.17 L246.55,493.24 L247.06,493.31 L247.57,493.38 L248.08,493.45 L248.59,493.53 L249.10,493.61 L249.60,493.70 L250.11,493.79 L250.62,493.88 L251.13,493.97 L251.64,494.07 L252.15,494.17 L252.66,494.28 L253.16,494.38 L253.67,494.49 L254.18,494.61 L254.69,494.72 L255.20,494.84 L255.71,494.96 L256.22,495.09 L256.72,495.22 L257.23,495.35 L257.74,495.48 L258.25,495.62 L258.76,495.76 L259.27,495.90 L259.78,496.05 L260.28,496.20 L260.79,496.35 L261.30,496.50 L261.81,496.66 L262.32,496.83 L262.83,496.99 L263.33,497.16 L263.84,497.33 L264.35,497.51 L264.86,497.69 L265.37,497.88 L265.88,498.06 L266.39,498.25 L266.89,498.45 L267.40,498.65 L267.91,498.85 L268.42,499.06 L268.93,499.27 L269.44,499.48 L269.95,499.70 L270.45,499.93 L270.96,500.15 L271.47,500.38 L271.98,500.61 L272.49,500.84 L273.00,501.08 L273.51,501.31 L274.01,501.56 L274.52,501.80 L275.03,502.05 L275.54,502.31 L276.05,502.57 L276.56,502.83 L277.06,503.10 L277.57,503.37 L278.08,503.65 L278.59,503.94 L279.10,504.23 L279.61,504.53 L280.12,504.83 L280.62,505.14 L281.13,505.45 L281.64,505.77 L282.15,506.09 L282.66,506.41 L283.17,506.74 L283.68,507.07 L284.18,507.40 L284.69,507.74 L285.20,508.09 L285.71,508.43 L286.22,508.78 L286.73,509.14 L287.24,509.50 L287.74,509.87 L288.25,510.24 L288.76,510.62 L289.27,511.00 L289.78,511.38 L290.29,511.77 L290.79,512.17 L291.30,512.57 L291.81,512.97 L292.32,513.37 L292.83,513.78 L293.34,514.19 L293.85,514.60 L294.35,515.01 L294.86,515.43 L295.37,515.85 L295.88,516.27 L296.39,516.70 L296.90,517.13 L297.41,517.56 L297.91,518.00 L298.42,518.43 L298.93,518.88 L299.44,519.32 L299.95,519.77 L300.46,520.23 L300.97,520.68 L301.47,521.14 L301.98,521.60 L302.49,522.06 L303.00,522.52 L303.51,522.98 L304.02,523.44 L304.53,523.91" stroke="#3d9bff" stroke-width="2.4" stroke-dasharray="8 9.5"/>
<path d="M124.00,544.70 L124.51,544.62 L125.02,544.53 L125.53,544.44 L126.03,544.34 L126.54,544.24 L127.05,544.13 L127.56,544.02 L128.07,543.90 L128.58,543.78 L129.09,543.66 L129.59,543.53 L130.10,543.40 L130.61,543.26 L131.12,543.13 L131.63,542.99 L132.14,542.84 L132.64,542.70 L133.15,542.55 L133.66,542.40 L134.17,542.25 L134.68,542.09 L135.19,541.94 L135.70,541.78 L136.20,541.62 L136.71,541.46 L137.22,541.30 L137.73,541.14 L138.24,540.98 L138.75,540.82 L139.26,540.65 L139.76,540.49 L140.27,540.32 L140.78,540.15 L141.29,539.97 L141.80,539.79 L142.31,539.60 L142.82,539.41 L143.32,539.21 L143.83,539.01 L144.34,538.79 L144.85,538.57 L145.36,538.34 L145.87,538.10 L146.37,537.85 L146.88,537.59 L147.39,537.31 L147.90,537.03 L148.41,536.73 L148.92,536.42 L149.43,536.08 L149.93,535.71 L150.44,535.31 L150.95,534.88 L151.46,534.42 L151.97,533.92 L152.48,533.37 L152.99,532.78 L153.49,532.14 L154.00,531.45 L154.51,530.69 L155.02,529.74 L155.53,528.58 L156.04,527.25 L156.55,525.77 L157.05,524.17 L157.56,522.48 L158.07,520.72 L158.58,518.89 L159.09,516.72 L159.60,514.26 L160.11,511.64 L160.61,509.01 L161.12,506.50 L161.63,504.22 L162.14,502.02 L162.65,499.87 L163.16,497.78 L163.66,495.76 L164.17,493.81 L164.68,491.96 L165.19,490.25 L165.70,488.62 L166.21,486.99 L166.72,485.28 L167.22,483.42 L167.73,481.45 L168.24,479.39 L168.75,477.28 L169.26,475.12 L169.77,472.94 L170.28,470.76 L170.78,468.49 L171.29,466.16 L171.80,463.82 L172.31,461.51 L172.82,459.30 L173.33,457.21 L173.84,455.20 L174.34,453.24 L174.85,451.34 L175.36,449.50 L175.87,447.71 L176.38,445.96 L176.89,444.24 L177.39,442.54 L177.90,440.88 L178.41,439.28 L178.92,437.78 L179.43,436.40 L179.94,435.15 L180.45,433.99 L180.95,432.92 L181.46,431.91 L181.97,430.98 L182.48,430.11 L182.99,429.31 L183.50,428.55 L184.01,427.83 L184.51,427.16 L185.02,426.56 L185.53,426.03 L186.04,425.60 L186.55,425.25 L187.06,424.94 L187.57,424.67 L188.07,424.43 L188.58,424.24 L189.09,424.08 L189.60,423.96 L190.11,423.88 L190.62,423.83 L191.12,423.83 L191.63,423.86 L192.14,423.90 L192.65,423.95 L193.16,424.02 L193.67,424.11 L194.18,424.21 L194.68,424.34 L195.19,424.49 L195.70,424.66 L196.21,424.86 L196.72,425.08 L197.23,425.33 L197.74,425.61 L198.24,425.91 L198.75,426.22 L199.26,426.54 L199.77,426.87 L200.28,427.20 L200.79,427.54 L201.30,427.89 L201.80,428.25 L202.31,428.61 L202.82,428.99 L203.33,429.37 L203.84,429.76 L204.35,430.15 L204.85,430.56 L205.36,430.97 L205.87,431.39" stroke="#5a4cf0" stroke-width="2.4" stroke-dasharray="8 9.5"/>
<path d="M77.60,528.79 L78.22,526.96 L78.85,524.86 L79.47,522.52 L80.10,519.97 L80.72,517.26 L81.35,514.25 L81.97,510.94 L82.60,507.35 L83.22,503.55 L83.85,499.58 L84.47,495.26 L85.10,490.49 L85.72,485.52 L86.35,480.61 L86.97,476.02 L87.60,471.66 L88.22,467.19 L88.85,462.29 L89.47,456.56 L90.10,449.78 L90.72,442.49 L91.35,435.27 L91.97,428.34 L92.60,421.23 L93.22,414.08 L93.85,407.05 L94.47,400.32 L95.09,394.05 L95.72,388.40 L96.34,383.26 L96.97,378.33 L97.59,373.76 L98.22,369.73 L98.84,366.39 L99.47,363.85 L100.09,361.90 L100.72,360.25 L101.34,358.67 L101.97,356.99 L102.59,355.30 L103.22,353.72 L103.84,352.37 L104.47,351.30 L105.09,350.38 L105.72,349.61 L106.34,348.96 L106.97,348.41 L107.59,347.93 L108.22,347.56 L108.84,347.31 L109.47,347.19 L110.09,347.14 L110.72,347.15 L111.34,347.20 L111.96,347.30 L112.59,347.43 L113.21,347.58 L113.84,347.75 L114.46,347.94 L115.09,348.18 L115.71,348.47 L116.34,348.83 L116.96,349.20 L117.59,349.59 L118.21,350.00 L118.84,350.42 L119.46,350.86 L120.09,351.32 L120.71,351.80 L121.34,352.30 L121.96,352.81 L122.59,353.33 L123.21,353.85 L123.84,354.37 L124.46,354.89 L125.09,355.42 L125.71,355.95 L126.34,356.49 L126.96,357.03 L127.58,357.57 L128.21,358.11 L128.83,358.65 L129.46,359.20 L130.08,359.75 L130.71,360.31 L131.33,360.86 L131.96,361.42 L132.58,361.98 L133.21,362.54 L133.83,363.10 L134.46,363.67 L135.08,364.24 L135.71,364.81 L136.33,365.38 L136.96,365.95 L137.58,366.53 L138.21,367.10 L138.83,367.67 L139.46,368.25 L140.08,368.82 L140.71,369.40 L141.33,369.97 L141.96,370.55 L142.58,371.12 L143.21,371.70 L143.83,372.28 L144.45,372.85 L145.08,373.43 L145.70,374.01 L146.33,374.59 L146.95,375.17 L147.58,375.75 L148.20,376.33 L148.83,376.91 L149.45,377.49 L150.08,378.07 L150.70,378.65 L151.33,379.23 L151.95,379.81 L152.58,380.40 L153.20,380.98 L153.83,381.56 L154.45,382.15 L155.08,382.73 L155.70,383.32 L156.33,383.90 L156.95,384.49 L157.58,385.08 L158.20,385.66 L158.83,386.25 L159.45,386.84 L160.08,387.43 L160.70,388.01 L161.32,388.60 L161.95,389.19 L162.57,389.78 L163.20,390.37 L163.82,390.96 L164.45,391.55 L165.07,392.13 L165.70,392.72 L166.32,393.31 L166.95,393.90 L167.57,394.49 L168.20,395.08 L168.82,395.67 L169.45,396.25 L170.07,396.84 L170.70,397.43 L171.32,398.02 L171.95,398.61 L172.57,399.20 L173.20,399.79 L173.82,400.37 L174.45,400.96 L175.07,401.55 L175.70,402.14 L176.32,402.73 L176.95,403.32 L177.57,403.91 L178.19,404.50 L178.82,405.08 L179.44,405.67 L180.07,406.26 L180.69,406.85 L181.32,407.44 L181.94,408.03 L182.57,408.62 L183.19,409.21 L183.82,409.80 L184.44,410.39 L185.07,410.97 L185.69,411.56 L186.32,412.15 L186.94,412.74 L187.57,413.33 L188.19,413.92 L188.82,414.51 L189.44,415.10 L190.07,415.69 L190.69,416.28 L191.32,416.87 L191.94,417.45 L192.57,418.04 L193.19,418.63 L193.82,419.22 L194.44,419.81 L195.06,420.40 L195.69,420.99 L196.31,421.58 L196.94,422.17 L197.56,422.76 L198.19,423.35 L198.81,423.94 L199.44,424.53 L200.06,425.11 L200.69,425.70 L201.31,426.29 L201.94,426.88 L202.56,427.47 L203.19,428.06 L203.81,428.65 L204.44,429.24 L205.06,429.83 L205.69,430.42 L206.31,431.01 L206.94,431.60 L207.56,432.19 L208.19,432.78 L208.81,433.37 L209.44,433.96 L210.06,434.55 L210.68,435.14 L211.31,435.73 L211.93,436.31 L212.56,436.90 L213.18,437.49 L213.81,438.08 L214.43,438.67 L215.06,439.26 L215.68,439.85 L216.31,440.44 L216.93,441.03 L217.56,441.62 L218.18,442.21 L218.81,442.80 L219.43,443.39 L220.06,443.98 L220.68,444.57 L221.31,445.16 L221.93,445.75 L222.56,446.34 L223.18,446.93 L223.81,447.52 L224.43,448.11 L225.06,448.70 L225.68,449.29 L226.31,449.88 L226.93,450.47 L227.55,451.06 L228.18,451.65 L228.80,452.24 L229.43,452.83 L230.05,453.42 L230.68,454.01 L231.30,454.60 L231.93,455.19 L232.55,455.78 L233.18,456.37 L233.80,456.96 L234.43,457.55 L235.05,458.14 L235.68,458.73 L236.30,459.32 L236.93,459.91 L237.55,460.50 L238.18,461.09 L238.80,461.68 L239.43,462.27 L240.05,462.86 L240.68,463.45 L241.30,464.04 L241.93,464.63 L242.55,465.22 L243.18,465.81 L243.80,466.40 L244.42,466.99 L245.05,467.58 L245.67,468.17 L246.30,468.76 L246.92,469.35 L247.55,469.94 L248.17,470.53 L248.80,471.12 L249.42,471.71 L250.05,472.30 L250.67,472.89 L251.30,473.48 L251.92,474.07 L252.55,474.66 L253.17,475.25 L253.80,475.84 L254.42,476.43 L255.05,477.02 L255.67,477.61 L256.30,478.20 L256.92,478.79 L257.55,479.38 L258.17,479.97 L258.80,480.56 L259.42,481.15 L260.05,481.74 L260.67,482.33 L261.29,482.92 L261.92,483.51 L262.54,484.10 L263.17,484.69 L263.79,485.28 L264.42,485.87 L265.04,486.46 L265.67,487.05 L266.29,487.64 L266.92,488.23 L267.54,488.82 L268.17,489.41 L268.79,490.00 L269.42,490.59 L270.04,491.18 L270.67,491.77 L271.29,492.36 L271.92,492.95 L272.54,493.54 L273.17,494.13 L273.79,494.72 L274.42,495.31 L275.04,495.90 L275.67,496.49 L276.29,497.08 L276.92,497.67 L277.54,498.26 L278.16,498.85 L278.79,499.45 L279.41,500.04 L280.04,500.63 L280.66,501.22 L281.29,501.81 L281.91,502.40 L282.54,502.99 L283.16,503.58 L283.79,504.17 L284.41,504.76 L285.04,505.35 L285.66,505.94 L286.29,506.53 L286.91,507.12 L287.54,507.71 L288.16,508.30 L288.79,508.89 L289.41,509.48 L290.04,510.07 L290.66,510.66 L291.29,511.25 L291.91,511.84 L292.54,512.43 L293.16,513.02 L293.78,513.61 L294.41,514.20 L295.03,514.79 L295.66,515.38 L296.28,515.97 L296.91,516.57 L297.53,517.16 L298.16,517.75 L298.78,518.34 L299.41,518.93 L300.03,519.52 L300.66,520.11 L301.28,520.70 L301.91,521.29 L302.53,521.88 L303.16,522.47 L303.78,523.06 L304.41,523.65 L305.03,524.24 L305.66,524.83 L306.28,525.42 L306.91,526.01 L307.53,526.60 L308.16,527.19 L308.78,527.78 L309.41,528.37 L310.03,528.96 L310.65,529.55 L311.28,530.14 L311.90,530.73 L312.53,531.33 L313.15,531.92 L313.78,532.51 L314.40,533.10 L315.03,533.69 L315.65,534.28 L316.28,534.87 L316.90,535.46 L317.53,536.05 L318.15,536.64 L318.78,537.23 L319.40,537.82 L320.03,538.41 L320.65,539.00 L321.28,539.59 L321.90,540.18 L322.53,540.77 L323.15,541.36 L323.78,541.95 L324.40,542.54 L325.03,543.13 L325.65,543.72 L326.28,544.31 L326.90,544.90" stroke="#2e62ff" stroke-width="2.4" stroke-dasharray="8 9.5"/>
<path d="M164.80,545.00 L165.21,545.00 L165.61,545.00 L166.02,545.00 L166.43,545.00 L166.83,545.00 L167.24,545.00 L167.64,545.00 L168.05,545.00 L168.46,545.00 L168.86,545.00 L169.27,545.00 L169.68,545.00 L170.08,545.00 L170.49,545.00 L170.89,545.00 L171.30,545.00 L171.71,545.00 L172.11,545.00 L172.52,545.00 L172.93,545.00 L173.33,545.00 L173.74,545.00 L174.14,545.00 L174.55,545.00 L174.96,545.00 L175.36,545.00 L175.77,545.00 L176.18,545.00 L176.58,545.00 L176.99,545.00 L177.39,545.00 L177.80,545.00 L178.21,545.00 L178.61,545.00 L179.02,545.00 L179.43,545.00 L179.83,545.00 L180.24,545.00 L180.64,545.00 L181.05,545.00 L181.46,545.00 L181.86,545.00 L182.27,545.00 L182.68,545.00 L183.08,545.00 L183.49,545.00 L183.89,545.00 L184.30,545.00 L184.71,545.00 L185.11,545.00 L185.52,545.00 L185.93,545.00 L186.33,545.00 L186.74,545.00 L187.14,545.00 L187.55,545.00 L187.96,545.00 L188.36,545.00 L188.77,545.00 L189.18,545.00 L189.58,545.00 L189.99,545.00 L190.39,545.00 L190.80,545.00 L191.21,545.00 L191.61,545.00 L192.02,545.00 L192.43,545.00 L192.83,545.00 L193.24,545.00 L193.64,545.00 L194.05,545.00 L194.46,545.00 L194.86,545.00 L195.27,545.00 L195.68,545.00 L196.08,545.00 L196.49,545.00 L196.89,545.00 L197.30,545.00 L197.71,545.00 L198.11,545.00 L198.52,545.00 L198.93,545.00 L199.33,545.00 L199.74,545.00 L200.15,545.00 L200.55,545.00 L200.96,545.00 L201.36,545.00 L201.77,545.00 L202.18,545.00 L202.58,545.00 L202.99,545.00 L203.40,545.00 L203.80,545.00 L204.21,545.00 L204.61,545.00 L205.02,545.00 L205.43,545.00 L205.83,545.00 L206.24,545.00 L206.65,545.00 L207.05,545.00 L207.46,545.00 L207.86,545.00 L208.27,545.00 L208.68,545.00 L209.08,545.00 L209.49,545.00 L209.90,545.00 L210.30,545.00 L210.71,545.00 L211.11,545.00 L211.52,544.95 L211.93,544.85 L212.33,544.70 L212.74,544.51 L213.15,544.29 L213.55,544.06 L213.96,543.82 L214.36,543.57 L214.77,543.33 L215.18,543.10 L215.58,542.86 L215.99,542.61 L216.40,542.34 L216.80,542.07 L217.21,541.78 L217.61,541.48 L218.02,541.17 L218.43,540.86 L218.83,540.54 L219.24,540.21 L219.65,539.89 L220.05,539.56 L220.46,539.22 L220.86,538.88 L221.27,538.52 L221.68,538.16 L222.08,537.79 L222.49,537.42 L222.90,537.03 L223.30,536.65 L223.71,536.26 L224.11,535.86 L224.52,535.46 L224.93,535.06 L225.33,534.66 L225.74,534.26 L226.15,533.85 L226.55,533.45 L226.96,533.04 L227.36,532.63 L227.77,532.21 L228.18,531.79 L228.58,531.36 L228.99,530.94 L229.40,530.51 L229.80,530.08 L230.21,529.64 L230.62,529.20 L231.02,528.77 L231.43,528.33 L231.83,527.88 L232.24,527.44 L232.65,526.99 L233.05,526.55 L233.46,526.10 L233.87,525.65 L234.27,525.20 L234.68,524.75 L235.08,524.30 L235.49,523.85 L235.90,523.40 L236.30,522.95 L236.71,522.50 L237.12,522.05 L237.52,521.61 L237.93,521.16 L238.33,520.71 L238.74,520.27 L239.15,519.83 L239.55,519.38 L239.96,518.94 L240.37,518.51 L240.77,518.07 L241.18,517.63 L241.58,517.19 L241.99,516.75 L242.40,516.31 L242.80,515.87 L243.21,515.43 L243.62,514.99 L244.02,514.56 L244.43,514.12 L244.83,513.68 L245.24,513.24 L245.65,512.80 L246.05,512.36 L246.46,511.92 L246.87,511.48 L247.27,511.04 L247.68,510.60 L248.08,510.17 L248.49,509.73 L248.90,509.29 L249.30,508.85 L249.71,508.41 L250.12,507.97 L250.52,507.53 L250.93,507.09 L251.33,506.65 L251.74,506.21 L252.15,505.77 L252.55,505.33 L252.96,504.89 L253.37,504.45 L253.77,504.01 L254.18,503.57 L254.58,503.13 L254.99,502.69 L255.40,502.25 L255.80,501.81 L256.21,501.37 L256.62,500.93 L257.02,500.49 L257.43,500.05 L257.83,499.61 L258.24,499.16 L258.65,498.72 L259.05,498.27 L259.46,497.83 L259.87,497.39 L260.27,496.94 L260.68,496.50 L261.08,496.05 L261.49,495.61 L261.90,495.16 L262.30,494.72 L262.71,494.27 L263.12,493.83 L263.52,493.38 L263.93,492.94 L264.34,492.50 L264.74,492.06 L265.15,491.61 L265.55,491.17 L265.96,490.73 L266.37,490.29 L266.77,489.85 L267.18,489.42 L267.59,488.98 L267.99,488.54 L268.40,488.11 L268.80,487.67 L269.21,487.24 L269.62,486.81 L270.02,486.38 L270.43,485.95 L270.84,485.52 L271.24,485.10 L271.65,484.67 L272.05,484.24 L272.46,483.82 L272.87,483.39 L273.27,482.97 L273.68,482.54 L274.09,482.12 L274.49,481.70 L274.90,481.28 L275.30,480.86 L275.71,480.44 L276.12,480.02 L276.52,479.60 L276.93,479.19 L277.34,478.77 L277.74,478.36 L278.15,477.95 L278.55,477.54 L278.96,477.13 L279.37,476.73 L279.77,476.32 L280.18,475.92 L280.59,475.52 L280.99,475.12 L281.40,474.72 L281.80,474.32 L282.21,473.92 L282.62,473.53 L283.02,473.13 L283.43,472.74 L283.84,472.35 L284.24,471.95 L284.65,471.56 L285.05,471.18 L285.46,470.79 L285.87,470.40 L286.27,470.02 L286.68,469.64 L287.09,469.25 L287.49,468.88 L287.90,468.50 L288.30,468.12 L288.71,467.75 L289.12,467.37 L289.52,467.00 L289.93,466.63 L290.34,466.27 L290.74,465.90 L291.15,465.53 L291.55,465.17 L291.96,464.80 L292.37,464.44 L292.77,464.07 L293.18,463.71 L293.59,463.35 L293.99,462.99 L294.40,462.63 L294.81,462.27 L295.21,461.92 L295.62,461.57 L296.02,461.22 L296.43,460.87 L296.84,460.53 L297.24,460.18 L297.65,459.85 L298.06,459.51 L298.46,459.18 L298.87,458.86 L299.27,458.54 L299.68,458.22 L300.09,457.91 L300.49,457.60 L300.90,457.29 L301.31,456.98 L301.71,456.66 L302.12,456.35 L302.52,456.04 L302.93,455.73 L303.34,455.42 L303.74,455.12 L304.15,454.81 L304.56,454.51 L304.96,454.22 L305.37,453.93 L305.77,453.64 L306.18,453.36 L306.59,453.08 L306.99,452.82 L307.40,452.56 L307.81,452.30 L308.21,452.06 L308.62,451.82 L309.02,451.60 L309.43,451.38 L309.84,451.17 L310.24,450.98 L310.65,450.79 L311.06,450.60 L311.46,450.42 L311.87,450.24 L312.27,450.06 L312.68,449.88 L313.09,449.71 L313.49,449.54 L313.90,449.37 L314.31,449.21 L314.71,449.05 L315.12,448.90 L315.52,448.75 L315.93,448.60 L316.34,448.47 L316.74,448.33 L317.15,448.20 L317.56,448.08 L317.96,447.96 L318.37,447.85 L318.77,447.74 L319.18,447.64 L319.59,447.55 L319.99,447.46 L320.40,447.38 L320.81,447.30 L321.21,447.23 L321.62,447.16 L322.02,447.08 L322.43,447.02 L322.84,446.95 L323.24,446.89 L323.65,446.83 L324.06,446.77 L324.46,446.72 L324.87,446.67 L325.27,446.62 L325.68,446.59 L326.09,446.55 L326.49,446.52 L326.90,446.50" stroke="#000" stroke-width="2.3"/>
<path d="M164.80,545.00 L165.21,545.00 L165.61,545.00 L166.02,545.00 L166.43,545.00 L166.83,545.00 L167.24,545.00 L167.64,545.00 L168.05,545.00 L168.46,545.00 L168.86,545.00 L169.27,545.00 L169.68,545.00 L170.08,545.00 L170.49,545.00 L170.89,545.00 L171.30,545.00 L171.71,545.00 L172.11,545.00 L172.52,545.00 L172.93,545.00 L173.33,545.00 L173.74,545.00 L174.14,545.00 L174.55,545.00 L174.96,545.00 L175.36,545.00 L175.77,545.00 L176.18,545.00 L176.58,545.00 L176.99,545.00 L177.39,545.00 L177.80,545.00 L178.21,545.00 L178.61,545.00 L179.02,545.00 L179.43,545.00 L179.83,545.00 L180.24,545.00 L180.64,545.00 L181.05,545.00 L181.46,545.00 L181.86,545.00 L182.27,545.00 L182.68,545.00 L183.08,545.00 L183.49,545.00 L183.89,545.00 L184.30,545.00 L184.71,545.00 L185.11,545.00 L185.52,545.00 L185.93,545.00 L186.33,545.00 L186.74,545.00 L187.14,545.00 L187.55,545.00 L187.96,545.00 L188.36,545.00 L188.77,545.00 L189.18,545.00 L189.58,545.00 L189.99,545.00 L190.39,545.00 L190.80,545.00 L191.21,545.00 L191.61,545.00 L192.02,545.00 L192.43,545.00 L192.83,545.00 L193.24,545.00 L193.64,545.00 L194.05,545.00 L194.46,545.00 L194.86,545.00 L195.27,545.00 L195.68,545.00 L196.08,545.00 L196.49,545.00 L196.89,545.00 L197.30,545.00 L197.71,545.00 L198.11,545.00 L198.52,545.00 L198.93,545.00 L199.33,545.00 L199.74,545.00 L200.15,545.00 L200.55,545.00 L200.96,545.00 L201.36,545.00 L201.77,545.00 L202.18,545.00 L202.58,545.00 L202.99,545.00 L203.40,545.00 L203.80,545.00 L204.21,545.00 L204.61,545.00 L205.02,545.00 L205.43,545.00 L205.83,545.00 L206.24,545.00 L206.65,545.00 L207.05,545.00 L207.46,545.00 L207.86,545.00 L208.27,544.95 L208.68,544.85 L209.08,544.72 L209.49,544.55 L209.90,544.36 L210.30,544.16 L210.71,543.95 L211.11,543.74 L211.52,543.49 L211.93,543.20 L212.33,542.86 L212.74,542.50 L213.15,542.11 L213.55,541.70 L213.96,541.28 L214.36,540.85 L214.77,540.43 L215.18,540.02 L215.58,539.60 L215.99,539.17 L216.40,538.73 L216.80,538.28 L217.21,537.82 L217.61,537.36 L218.02,536.88 L218.43,536.40 L218.83,535.92 L219.24,535.42 L219.65,534.92 L220.05,534.42 L220.46,533.91 L220.86,533.40 L221.27,532.88 L221.68,532.36 L222.08,531.83 L222.49,531.30 L222.90,530.75 L223.30,530.19 L223.71,529.63 L224.11,529.05 L224.52,528.47 L224.93,527.89 L225.33,527.30 L225.74,526.70 L226.15,526.11 L226.55,525.51 L226.96,524.91 L227.36,524.31 L227.77,523.71 L228.18,523.12 L228.58,522.52 L228.99,521.94 L229.40,521.35 L229.80,520.78 L230.21,520.21 L230.62,519.64 L231.02,519.07 L231.43,518.51 L231.83,517.95 L232.24,517.38 L232.65,516.82 L233.05,516.26 L233.46,515.70 L233.87,515.15 L234.27,514.59 L234.68,514.03 L235.08,513.48 L235.49,512.92 L235.90,512.37 L236.30,511.81 L236.71,511.26 L237.12,510.71 L237.52,510.16 L237.93,509.60 L238.33,509.05 L238.74,508.50 L239.15,507.95 L239.55,507.40 L239.96,506.85 L240.37,506.30 L240.77,505.75 L241.18,505.19 L241.58,504.64 L241.99,504.09 L242.40,503.54 L242.80,502.99 L243.21,502.43 L243.62,501.88 L244.02,501.33 L244.43,500.77 L244.83,500.22 L245.24,499.66 L245.65,499.11 L246.05,498.55 L246.46,497.99 L246.87,497.43 L247.27,496.88 L247.68,496.32 L248.08,495.76 L248.49,495.20 L248.90,494.64 L249.30,494.07 L249.71,493.51 L250.12,492.95 L250.52,492.39 L250.93,491.83 L251.33,491.27 L251.74,490.70 L252.15,490.14 L252.55,489.58 L252.96,489.02 L253.37,488.46 L253.77,487.90 L254.18,487.33 L254.58,486.77 L254.99,486.21 L255.40,485.65 L255.80,485.09 L256.21,484.52 L256.62,483.96 L257.02,483.39 L257.43,482.83 L257.83,482.27 L258.24,481.71 L258.65,481.15 L259.05,480.59 L259.46,480.03 L259.87,479.48 L260.27,478.93 L260.68,478.38 L261.08,477.84 L261.49,477.29 L261.90,476.75 L262.30,476.20 L262.71,475.66 L263.12,475.12 L263.52,474.58 L263.93,474.04 L264.34,473.51 L264.74,472.97 L265.15,472.43 L265.55,471.90 L265.96,471.37 L266.37,470.83 L266.77,470.30 L267.18,469.77 L267.59,469.24 L267.99,468.72 L268.40,468.19 L268.80,467.67 L269.21,467.14 L269.62,466.62 L270.02,466.10 L270.43,465.58 L270.84,465.06 L271.24,464.54 L271.65,464.02 L272.05,463.51 L272.46,462.99 L272.87,462.48 L273.27,461.96 L273.68,461.45 L274.09,460.94 L274.49,460.43 L274.90,459.92 L275.30,459.41 L275.71,458.91 L276.12,458.40 L276.52,457.90 L276.93,457.39 L277.34,456.89 L277.74,456.39 L278.15,455.90 L278.55,455.40 L278.96,454.90 L279.37,454.41 L279.77,453.92 L280.18,453.42 L280.59,452.93 L280.99,452.44 L281.40,451.95 L281.80,451.46 L282.21,450.97 L282.62,450.48 L283.02,449.99 L283.43,449.50 L283.84,449.01 L284.24,448.52 L284.65,448.04 L285.05,447.55 L285.46,447.07 L285.87,446.59 L286.27,446.12 L286.68,445.64 L287.09,445.17 L287.49,444.71 L287.90,444.25 L288.30,443.79 L288.71,443.33 L289.12,442.88 L289.52,442.44 L289.93,442.00 L290.34,441.56 L290.74,441.13 L291.15,440.70 L291.55,440.27 L291.96,439.84 L292.37,439.42 L292.77,439.00 L293.18,438.58 L293.59,438.16 L293.99,437.75 L294.40,437.34 L294.81,436.93 L295.21,436.53 L295.62,436.13 L296.02,435.73 L296.43,435.34 L296.84,434.95 L297.24,434.57 L297.65,434.19 L298.06,433.81 L298.46,433.44 L298.87,433.08 L299.27,432.72 L299.68,432.36 L300.09,432.01 L300.49,431.67 L300.90,431.32 L301.31,430.98 L301.71,430.64 L302.12,430.30 L302.52,429.96 L302.93,429.63 L303.34,429.30 L303.74,428.97 L304.15,428.64 L304.56,428.32 L304.96,428.01 L305.37,427.69 L305.77,427.38 L306.18,427.08 L306.59,426.78 L306.99,426.49 L307.40,426.20 L307.81,425.92 L308.21,425.65 L308.62,425.38 L309.02,425.12 L309.43,424.86 L309.84,424.61 L310.24,424.37 L310.65,424.14 L311.06,423.91 L311.46,423.68 L311.87,423.45 L312.27,423.22 L312.68,423.00 L313.09,422.78 L313.49,422.57 L313.90,422.36 L314.31,422.15 L314.71,421.94 L315.12,421.74 L315.52,421.55 L315.93,421.35 L316.34,421.17 L316.74,420.98 L317.15,420.80 L317.56,420.63 L317.96,420.46 L318.37,420.30 L318.77,420.14 L319.18,419.99 L319.59,419.84 L319.99,419.70 L320.40,419.57 L320.81,419.44 L321.21,419.31 L321.62,419.18 L322.02,419.06 L322.43,418.94 L322.84,418.83 L323.24,418.72 L323.65,418.61 L324.06,418.50 L324.46,418.40 L324.87,418.31 L325.27,418.22 L325.68,418.13 L326.09,418.05 L326.49,417.97 L326.90,417.90" stroke="#ff7f00" stroke-width="2.3"/>
<path d="M124.00,544.80 L124.51,544.77 L125.02,544.74 L125.53,544.70 L126.03,544.65 L126.54,544.60 L127.05,544.54 L127.56,544.47 L128.07,544.41 L128.58,544.33 L129.09,544.25 L129.59,544.17 L130.10,544.08 L130.61,543.99 L131.12,543.89 L131.63,543.79 L132.14,543.69 L132.64,543.58 L133.15,543.47 L133.66,543.36 L134.17,543.24 L134.68,543.12 L135.19,543.00 L135.70,542.88 L136.20,542.75 L136.71,542.62 L137.22,542.49 L137.73,542.36 L138.24,542.23 L138.75,542.09 L139.26,541.95 L139.76,541.82 L140.27,541.68 L140.78,541.54 L141.29,541.38 L141.80,541.22 L142.31,541.05 L142.82,540.87 L143.32,540.68 L143.83,540.48 L144.34,540.27 L144.85,540.06 L145.36,539.84 L145.87,539.62 L146.37,539.39 L146.88,539.15 L147.39,538.91 L147.90,538.66 L148.41,538.41 L148.92,538.16 L149.43,537.90 L149.93,537.63 L150.44,537.37 L150.95,537.09 L151.46,536.81 L151.97,536.51 L152.48,536.21 L152.99,535.90 L153.49,535.58 L154.00,535.25 L154.51,534.92 L155.02,534.57 L155.53,534.22 L156.04,533.85 L156.55,533.48 L157.05,533.10 L157.56,532.71 L158.07,532.31 L158.58,531.90 L159.09,531.48 L159.60,531.05 L160.11,530.61 L160.61,530.15 L161.12,529.67 L161.63,529.16 L162.14,528.63 L162.65,528.09 L163.16,527.52 L163.66,526.94 L164.17,526.35 L164.68,525.74 L165.19,525.12 L165.70,524.49 L166.21,523.85 L166.72,523.21 L167.22,522.56 L167.73,521.91 L168.24,521.26 L168.75,520.60 L169.26,519.95 L169.77,519.30 L170.28,518.65 L170.78,517.99 L171.29,517.32 L171.80,516.64 L172.31,515.95 L172.82,515.26 L173.33,514.55 L173.84,513.84 L174.34,513.13 L174.85,512.41 L175.36,511.69 L175.87,510.96 L176.38,510.23 L176.89,509.50 L177.39,508.78 L177.90,508.05 L178.41,507.32 L178.92,506.60 L179.43,505.88 L179.94,505.17 L180.45,504.46 L180.95,503.75 L181.46,503.04 L181.97,502.33 L182.48,501.62 L182.99,500.91 L183.50,500.20 L184.01,499.49 L184.51,498.78 L185.02,498.08 L185.53,497.37 L186.04,496.66 L186.55,495.95 L187.06,495.24 L187.57,494.53 L188.07,493.82 L188.58,493.11 L189.09,492.40 L189.60,491.69 L190.11,490.98 L190.62,490.27 L191.12,489.56 L191.63,488.85 L192.14,488.14 L192.65,487.43 L193.16,486.72 L193.67,486.01 L194.18,485.30 L194.68,484.59 L195.19,483.88 L195.70,483.17 L196.21,482.46 L196.72,481.75 L197.23,481.04 L197.74,480.33 L198.24,479.61 L198.75,478.90 L199.26,478.19 L199.77,477.48 L200.28,476.77 L200.79,476.06 L201.30,475.35 L201.80,474.63 L202.31,473.92 L202.82,473.20 L203.33,472.48 L203.84,471.76 L204.35,471.05 L204.85,470.33 L205.36,469.61 L205.87,468.89 L206.38,468.17 L206.89,467.44 L207.40,466.72 L207.91,466.00 L208.41,465.28 L208.92,464.56 L209.43,463.84 L209.94,463.12 L210.45,462.40 L210.96,461.68 L211.47,460.96 L211.97,460.25 L212.48,459.53 L212.99,458.81 L213.50,458.10 L214.01,457.39 L214.52,456.68 L215.03,455.97 L215.53,455.26 L216.04,454.55 L216.55,453.84 L217.06,453.14 L217.57,452.44 L218.08,451.74 L218.58,451.04 L219.09,450.35 L219.60,449.65 L220.11,448.96 L220.62,448.27 L221.13,447.59 L221.64,446.91 L222.14,446.22 L222.65,445.55 L223.16,444.87 L223.67,444.19 L224.18,443.52 L224.69,442.85 L225.20,442.18 L225.70,441.51 L226.21,440.84 L226.72,440.18 L227.23,439.51 L227.74,438.85 L228.25,438.19 L228.76,437.53 L229.26,436.87 L229.77,436.21 L230.28,435.55 L230.79,434.89 L231.30,434.23 L231.81,433.58 L232.32,432.92 L232.82,432.27 L233.33,431.61 L233.84,430.96 L234.35,430.30 L234.86,429.65 L235.37,428.99 L235.87,428.33 L236.38,427.68 L236.89,427.02 L237.40,426.37 L237.91,425.71 L238.42,425.05 L238.93,424.39 L239.43,423.73 L239.94,423.07 L240.45,422.41 L240.96,421.75 L241.47,421.10 L241.98,420.44 L242.49,419.78 L242.99,419.12 L243.50,418.46 L244.01,417.81 L244.52,417.15 L245.03,416.49 L245.54,415.84 L246.05,415.18 L246.55,414.52 L247.06,413.87 L247.57,413.21 L248.08,412.55 L248.59,411.90 L249.10,411.24 L249.60,410.58 L250.11,409.93 L250.62,409.27 L251.13,408.61 L251.64,407.95 L252.15,407.29 L252.66,406.64 L253.16,405.98 L253.67,405.32 L254.18,404.66 L254.69,403.99 L255.20,403.33 L255.71,402.67 L256.22,402.00 L256.72,401.34 L257.23,400.67 L257.74,400.00 L258.25,399.33 L258.76,398.66 L259.27,397.99 L259.78,397.32 L260.28,396.65 L260.79,395.97 L261.30,395.30 L261.81,394.63 L262.32,393.95 L262.83,393.28 L263.33,392.61 L263.84,391.94 L264.35,391.27 L264.86,390.60 L265.37,389.93 L265.88,389.26 L266.39,388.59 L266.89,387.93 L267.40,387.27 L267.91,386.61 L268.42,385.95 L268.93,385.29 L269.44,384.63 L269.95,383.98 L270.45,383.33 L270.96,382.68 L271.47,382.02 L271.98,381.36 L272.49,380.70 L273.00,380.04 L273.51,379.37 L274.01,378.71 L274.52,378.05 L275.03,377.39 L275.54,376.74 L276.05,376.09 L276.56,375.45 L277.06,374.81 L277.57,374.18 L278.08,373.57 L278.59,372.96 L279.10,372.37 L279.61,371.79 L280.12,371.22 L280.62,370.67 L281.13,370.12 L281.64,369.57 L282.15,369.03 L282.66,368.49 L283.17,367.95 L283.68,367.42 L284.18,366.89 L284.69,366.38 L285.20,365.87 L285.71,365.37 L286.22,364.88 L286.73,364.40 L287.24,363.93 L287.74,363.47 L288.25,363.03 L288.76,362.61 L289.27,362.19 L289.78,361.80 L290.29,361.42 L290.79,361.06 L291.30,360.71 L291.81,360.36 L292.32,360.01 L292.83,359.66 L293.34,359.32 L293.85,358.99 L294.35,358.66 L294.86,358.34 L295.37,358.04 L295.88,357.74 L296.39,357.45 L296.90,357.17 L297.41,356.91 L297.91,356.66 L298.42,356.43 L298.93,356.21 L299.44,356.01 L299.95,355.83 L300.46,355.67 L300.97,355.53 L301.47,355.39 L301.98,355.25 L302.49,355.11 L303.00,354.98 L303.51,354.86 L304.02,354.73 L304.53,354.62 L305.03,354.50 L305.54,354.40 L306.05,354.30 L306.56,354.20 L307.07,354.11 L307.58,354.03 L308.08,353.96 L308.59,353.89 L309.10,353.83 L309.61,353.78 L310.12,353.74 L310.63,353.71 L311.14,353.68 L311.64,353.66 L312.15,353.64 L312.66,353.62 L313.17,353.60 L313.68,353.58 L314.19,353.56 L314.70,353.54 L315.20,353.52 L315.71,353.50 L316.22,353.48 L316.73,353.47 L317.24,353.45 L317.75,353.44 L318.26,353.42 L318.76,353.41 L319.27,353.40 L319.78,353.38 L320.29,353.37 L320.80,353.36 L321.31,353.35 L321.81,353.34 L322.32,353.34 L322.83,353.33 L323.34,353.32 L323.85,353.32 L324.36,353.31 L324.87,353.31 L325.37,353.30 L325.88,353.30 L326.39,353.30 L326.90,353.30" stroke="#3d9bff" stroke-width="2.3"/>
<path d="M124.00,544.70 L124.51,544.62 L125.02,544.53 L125.53,544.43 L126.03,544.33 L126.54,544.23 L127.05,544.12 L127.56,544.00 L128.07,543.88 L128.58,543.76 L129.09,543.63 L129.59,543.49 L130.10,543.35 L130.61,543.21 L131.12,543.06 L131.63,542.91 L132.14,542.76 L132.64,542.60 L133.15,542.44 L133.66,542.28 L134.17,542.11 L134.68,541.94 L135.19,541.77 L135.70,541.59 L136.20,541.41 L136.71,541.24 L137.22,541.05 L137.73,540.87 L138.24,540.69 L138.75,540.50 L139.26,540.31 L139.76,540.12 L140.27,539.92 L140.78,539.72 L141.29,539.51 L141.80,539.30 L142.31,539.08 L142.82,538.85 L143.32,538.62 L143.83,538.37 L144.34,538.12 L144.85,537.85 L145.36,537.57 L145.87,537.28 L146.37,536.98 L146.88,536.66 L147.39,536.33 L147.90,535.98 L148.41,535.62 L148.92,535.23 L149.43,534.82 L149.93,534.37 L150.44,533.88 L150.95,533.36 L151.46,532.79 L151.97,532.17 L152.48,531.50 L152.99,530.77 L153.49,529.98 L154.00,529.13 L154.51,528.19 L155.02,527.02 L155.53,525.59 L156.04,523.96 L156.55,522.13 L157.05,520.16 L157.56,518.05 L158.07,515.86 L158.58,513.56 L159.09,510.85 L159.60,507.76 L160.11,504.47 L160.61,501.14 L161.12,497.94 L161.63,494.99 L162.14,492.13 L162.65,489.31 L163.16,486.55 L163.66,483.86 L164.17,481.24 L164.68,478.73 L165.19,476.38 L165.70,474.11 L166.21,471.82 L166.72,469.43 L167.22,466.83 L167.73,464.07 L168.24,461.18 L168.75,458.20 L169.26,455.14 L169.77,452.04 L170.28,448.91 L170.78,445.66 L171.29,442.30 L171.80,438.90 L172.31,435.53 L172.82,432.25 L173.33,429.12 L173.84,426.07 L174.34,423.08 L174.85,420.14 L175.36,417.25 L175.87,414.41 L176.38,411.62 L176.89,408.85 L177.39,406.07 L177.90,403.34 L178.41,400.67 L178.92,398.12 L179.43,395.71 L179.94,393.47 L180.45,391.35 L180.95,389.32 L181.46,387.37 L181.97,385.51 L182.48,383.74 L182.99,382.04 L183.50,380.39 L184.01,378.78 L184.51,377.24 L185.02,375.77 L185.53,374.41 L186.04,373.16 L186.55,372.04 L187.06,370.96 L187.57,369.93 L188.07,368.95 L188.58,368.01 L189.09,367.13 L189.60,366.29 L190.11,365.51 L190.62,364.78 L191.12,364.10 L191.63,363.46 L192.14,362.83 L192.65,362.22 L193.16,361.63 L193.67,361.06 L194.18,360.52 L194.68,360.01 L195.19,359.52 L195.70,359.07 L196.21,358.65 L196.72,358.27 L197.23,357.93 L197.74,357.63 L198.24,357.37 L198.75,357.12 L199.26,356.87 L199.77,356.64 L200.28,356.42 L200.79,356.21 L201.30,356.01 L201.80,355.82 L202.31,355.64 L202.82,355.48 L203.33,355.32 L203.84,355.18 L204.35,355.05 L204.85,354.93 L205.36,354.82 L205.87,354.72 L206.38,354.64 L206.89,354.55 L207.40,354.47 L207.91,354.38 L208.41,354.31 L208.92,354.23 L209.43,354.16 L209.94,354.09 L210.45,354.02 L210.96,353.96 L211.47,353.91 L211.97,353.86 L212.48,353.81 L212.99,353.78 L213.50,353.75 L214.01,353.72 L214.52,353.71 L215.03,353.70 L215.53,353.70 L216.04,353.69 L216.55,353.69 L217.06,353.69 L217.57,353.68 L218.08,353.68 L218.58,353.67 L219.09,353.67 L219.60,353.67 L220.11,353.66 L220.62,353.66 L221.13,353.66 L221.64,353.65 L222.14,353.65 L222.65,353.65 L223.16,353.65 L223.67,353.64 L224.18,353.64 L224.69,353.64 L225.20,353.63 L225.70,353.63 L226.21,353.63 L226.72,353.62 L227.23,353.62 L227.74,353.62 L228.25,353.61 L228.76,353.61 L229.26,353.61 L229.77,353.61 L230.28,353.60 L230.79,353.60 L231.30,353.60 L231.81,353.59 L232.32,353.59 L232.82,353.59 L233.33,353.59 L233.84,353.58 L234.35,353.58 L234.86,353.58 L235.37,353.58 L235.87,353.57 L236.38,353.57 L236.89,353.57 L237.40,353.57 L237.91,353.56 L238.42,353.56 L238.93,353.56 L239.43,353.56 L239.94,353.55 L240.45,353.55 L240.96,353.55 L241.47,353.55 L241.98,353.54 L242.49,353.54 L242.99,353.54 L243.50,353.54 L244.01,353.54 L244.52,353.53 L245.03,353.53 L245.54,353.53 L246.05,353.53 L246.55,353.53 L247.06,353.52 L247.57,353.52 L248.08,353.52 L248.59,353.52 L249.10,353.52 L249.60,353.51 L250.11,353.51 L250.62,353.51 L251.13,353.51 L251.64,353.51 L252.15,353.50 L252.66,353.50 L253.16,353.50 L253.67,353.50 L254.18,353.50 L254.69,353.49 L255.20,353.49 L255.71,353.49 L256.22,353.49 L256.72,353.49 L257.23,353.49 L257.74,353.48 L258.25,353.48 L258.76,353.48 L259.27,353.48 L259.78,353.48 L260.28,353.48 L260.79,353.48 L261.30,353.47 L261.81,353.47 L262.32,353.47 L262.83,353.47 L263.33,353.47 L263.84,353.47 L264.35,353.47 L264.86,353.46 L265.37,353.46 L265.88,353.46 L266.39,353.46 L266.89,353.46 L267.40,353.46 L267.91,353.46 L268.42,353.46 L268.93,353.45 L269.44,353.45 L269.95,353.45 L270.45,353.45 L270.96,353.45 L271.47,353.45 L271.98,353.45 L272.49,353.45 L273.00,353.45 L273.51,353.44 L274.01,353.44 L274.52,353.44 L275.03,353.44 L275.54,353.44 L276.05,353.44 L276.56,353.44 L277.06,353.44 L277.57,353.44 L278.08,353.44 L278.59,353.43 L279.10,353.43 L279.61,353.43 L280.12,353.43 L280.62,353.43 L281.13,353.43 L281.64,353.43 L282.15,353.43 L282.66,353.43 L283.17,353.43 L283.68,353.43 L284.18,353.43 L284.69,353.42 L285.20,353.42 L285.71,353.42 L286.22,353.42 L286.73,353.42 L287.24,353.42 L287.74,353.42 L288.25,353.42 L288.76,353.42 L289.27,353.42 L289.78,353.42 L290.29,353.42 L290.79,353.42 L291.30,353.42 L291.81,353.42 L292.32,353.42 L292.83,353.41 L293.34,353.41 L293.85,353.41 L294.35,353.41 L294.86,353.41 L295.37,353.41 L295.88,353.41 L296.39,353.41 L296.90,353.41 L297.41,353.41 L297.91,353.41 L298.42,353.41 L298.93,353.41 L299.44,353.41 L299.95,353.41 L300.46,353.41 L300.97,353.41 L301.47,353.41 L301.98,353.41 L302.49,353.41 L303.00,353.41 L303.51,353.41 L304.02,353.41 L304.53,353.41 L305.03,353.41 L305.54,353.40 L306.05,353.40 L306.56,353.40 L307.07,353.40 L307.58,353.40 L308.08,353.40 L308.59,353.40 L309.10,353.40 L309.61,353.40 L310.12,353.40 L310.63,353.40 L311.14,353.40 L311.64,353.40 L312.15,353.40 L312.66,353.40 L313.17,353.40 L313.68,353.40 L314.19,353.40 L314.70,353.40 L315.20,353.40 L315.71,353.40 L316.22,353.40 L316.73,353.40 L317.24,353.40 L317.75,353.40 L318.26,353.40 L318.76,353.40 L319.27,353.40 L319.78,353.40 L320.29,353.40 L320.80,353.40 L321.31,353.40 L321.81,353.40 L322.32,353.40 L322.83,353.40 L323.34,353.40 L323.85,353.40 L324.36,353.40 L324.87,353.40 L325.37,353.40 L325.88,353.40 L326.39,353.40 L326.90,353.40" stroke="#5a4cf0" stroke-width="2.3"/>
<path d="M77.60,531.80 L78.22,530.27 L78.85,528.52 L79.47,526.56 L80.10,524.42 L80.72,522.13 L81.35,519.59 L81.97,516.78 L82.60,513.74 L83.22,510.49 L83.85,507.09 L84.47,503.38 L85.10,499.27 L85.72,494.98 L86.35,490.71 L86.97,486.69 L87.60,482.84 L88.22,478.89 L88.85,474.54 L89.47,469.46 L90.10,463.45 L90.72,456.98 L91.35,450.53 L91.97,444.30 L92.60,437.88 L93.22,431.39 L93.85,424.97 L94.47,418.77 L95.09,412.94 L95.72,407.64 L96.34,402.75 L96.97,398.01 L97.59,393.57 L98.22,389.58 L98.84,386.19 L99.47,383.49 L100.09,381.29 L100.72,379.37 L101.34,377.49 L101.97,375.51 L102.59,373.51 L103.22,371.60 L103.84,369.89 L104.47,368.42 L105.09,367.08 L105.72,365.87 L106.34,364.76 L106.97,363.75 L107.59,362.79 L108.22,361.92 L108.84,361.17 L109.47,360.53 L110.09,359.95 L110.72,359.42 L111.34,358.94 L111.96,358.49 L112.59,358.06 L113.21,357.66 L113.84,357.28 L114.46,356.91 L115.09,356.58 L115.71,356.31 L116.34,356.09 L116.96,355.89 L117.59,355.70 L118.21,355.53 L118.84,355.38 L119.46,355.24 L120.09,355.11 L120.71,355.01 L121.34,354.92 L121.96,354.85 L122.59,354.78 L123.21,354.71 L123.84,354.65 L124.46,354.59 L125.09,354.53 L125.71,354.47 L126.34,354.42 L126.96,354.37 L127.58,354.32 L128.21,354.28 L128.83,354.23 L129.46,354.19 L130.08,354.16 L130.71,354.12 L131.33,354.09 L131.96,354.05 L132.58,354.03 L133.21,354.00 L133.83,353.97 L134.46,353.95 L135.08,353.93 L135.71,353.91 L136.33,353.89 L136.96,353.87 L137.58,353.86 L138.21,353.84 L138.83,353.82 L139.46,353.81 L140.08,353.79 L140.71,353.78 L141.33,353.76 L141.96,353.75 L142.58,353.73 L143.21,353.72 L143.83,353.70 L144.45,353.69 L145.08,353.68 L145.70,353.67 L146.33,353.65 L146.95,353.64 L147.58,353.63 L148.20,353.62 L148.83,353.61 L149.45,353.60 L150.08,353.59 L150.70,353.58 L151.33,353.57 L151.95,353.56 L152.58,353.56 L153.20,353.55 L153.83,353.54 L154.45,353.54 L155.08,353.53 L155.70,353.52 L156.33,353.52 L156.95,353.51 L157.58,353.51 L158.20,353.51 L158.83,353.50 L159.45,353.50 L160.08,353.50 L160.70,353.50 L161.32,353.50 L161.95,353.49 L162.57,353.49 L163.20,353.49 L163.82,353.49 L164.45,353.49 L165.07,353.49 L165.70,353.48 L166.32,353.48 L166.95,353.48 L167.57,353.48 L168.20,353.48 L168.82,353.48 L169.45,353.47 L170.07,353.47 L170.70,353.47 L171.32,353.47 L171.95,353.47 L172.57,353.47 L173.20,353.46 L173.82,353.46 L174.45,353.46 L175.07,353.46 L175.70,353.46 L176.32,353.46 L176.95,353.46 L177.57,353.45 L178.19,353.45 L178.82,353.45 L179.44,353.45 L180.07,353.45 L180.69,353.45 L181.32,353.44 L181.94,353.44 L182.57,353.44 L183.19,353.44 L183.82,353.44 L184.44,353.44 L185.07,353.44 L185.69,353.43 L186.32,353.43 L186.94,353.43 L187.57,353.43 L188.19,353.43 L188.82,353.43 L189.44,353.43 L190.07,353.43 L190.69,353.42 L191.32,353.42 L191.94,353.42 L192.57,353.42 L193.19,353.42 L193.82,353.42 L194.44,353.42 L195.06,353.41 L195.69,353.41 L196.31,353.41 L196.94,353.41 L197.56,353.41 L198.19,353.41 L198.81,353.41 L199.44,353.41 L200.06,353.40 L200.69,353.40 L201.31,353.40 L201.94,353.40 L202.56,353.40 L203.19,353.40 L203.81,353.40 L204.44,353.40 L205.06,353.40 L205.69,353.39 L206.31,353.39 L206.94,353.39 L207.56,353.39 L208.19,353.39 L208.81,353.39 L209.44,353.39 L210.06,353.39 L210.68,353.39 L211.31,353.38 L211.93,353.38 L212.56,353.38 L213.18,353.38 L213.81,353.38 L214.43,353.38 L215.06,353.38 L215.68,353.38 L216.31,353.38 L216.93,353.38 L217.56,353.37 L218.18,353.37 L218.81,353.37 L219.43,353.37 L220.06,353.37 L220.68,353.37 L221.31,353.37 L221.93,353.37 L222.56,353.37 L223.18,353.37 L223.81,353.37 L224.43,353.36 L225.06,353.36 L225.68,353.36 L226.31,353.36 L226.93,353.36 L227.55,353.36 L228.18,353.36 L228.80,353.36 L229.43,353.36 L230.05,353.36 L230.68,353.36 L231.30,353.35 L231.93,353.35 L232.55,353.35 L233.18,353.35 L233.80,353.35 L234.43,353.35 L235.05,353.35 L235.68,353.35 L236.30,353.35 L236.93,353.35 L237.55,353.35 L238.18,353.35 L238.80,353.35 L239.43,353.35 L240.05,353.34 L240.68,353.34 L241.30,353.34 L241.93,353.34 L242.55,353.34 L243.18,353.34 L243.80,353.34 L244.42,353.34 L245.05,353.34 L245.67,353.34 L246.30,353.34 L246.92,353.34 L247.55,353.34 L248.17,353.34 L248.80,353.33 L249.42,353.33 L250.05,353.33 L250.67,353.33 L251.30,353.33 L251.92,353.33 L252.55,353.33 L253.17,353.33 L253.80,353.33 L254.42,353.33 L255.05,353.33 L255.67,353.33 L256.30,353.33 L256.92,353.33 L257.55,353.33 L258.17,353.33 L258.80,353.33 L259.42,353.33 L260.05,353.32 L260.67,353.32 L261.29,353.32 L261.92,353.32 L262.54,353.32 L263.17,353.32 L263.79,353.32 L264.42,353.32 L265.04,353.32 L265.67,353.32 L266.29,353.32 L266.92,353.32 L267.54,353.32 L268.17,353.32 L268.79,353.32 L269.42,353.32 L270.04,353.32 L270.67,353.32 L271.29,353.32 L271.92,353.32 L272.54,353.32 L273.17,353.32 L273.79,353.32 L274.42,353.31 L275.04,353.31 L275.67,353.31 L276.29,353.31 L276.92,353.31 L277.54,353.31 L278.16,353.31 L278.79,353.31 L279.41,353.31 L280.04,353.31 L280.66,353.31 L281.29,353.31 L281.91,353.31 L282.54,353.31 L283.16,353.31 L283.79,353.31 L284.41,353.31 L285.04,353.31 L285.66,353.31 L286.29,353.31 L286.91,353.31 L287.54,353.31 L288.16,353.31 L288.79,353.31 L289.41,353.31 L290.04,353.31 L290.66,353.31 L291.29,353.31 L291.91,353.31 L292.54,353.31 L293.16,353.31 L293.78,353.31 L294.41,353.31 L295.03,353.31 L295.66,353.30 L296.28,353.30 L296.91,353.30 L297.53,353.30 L298.16,353.30 L298.78,353.30 L299.41,353.30 L300.03,353.30 L300.66,353.30 L301.28,353.30 L301.91,353.30 L302.53,353.30 L303.16,353.30 L303.78,353.30 L304.41,353.30 L305.03,353.30 L305.66,353.30 L306.28,353.30 L306.91,353.30 L307.53,353.30 L308.16,353.30 L308.78,353.30 L309.41,353.30 L310.03,353.30 L310.65,353.30 L311.28,353.30 L311.90,353.30 L312.53,353.30 L313.15,353.30 L313.78,353.30 L314.40,353.30 L315.03,353.30 L315.65,353.30 L316.28,353.30 L316.90,353.30 L317.53,353.30 L318.15,353.30 L318.78,353.30 L319.40,353.30 L320.03,353.30 L320.65,353.30 L321.28,353.30 L321.90,353.30 L322.53,353.30 L323.15,353.30 L323.78,353.30 L324.40,353.30 L325.03,353.30 L325.65,353.30 L326.28,353.30 L326.90,353.30" stroke="#2e62ff" stroke-width="2.3"/>
</g>
<line x1="326.89" y1="318.69999999999993" x2="326.89" y2="545.5" stroke="#1c2cff" stroke-width="1.4"/>
<line x1="87.64" y1="544.9" x2="87.64" y2="541.4" stroke="#000" stroke-width="1.3"/>
<line x1="87.64" y1="319.29999999999995" x2="87.64" y2="322.79999999999995" stroke="#000" stroke-width="1.3"/>
<line x1="97.78" y1="544.9" x2="97.78" y2="541.4" stroke="#000" stroke-width="1.3"/>
<line x1="97.78" y1="319.29999999999995" x2="97.78" y2="322.79999999999995" stroke="#000" stroke-width="1.3"/>
<line x1="107.91" y1="544.9" x2="107.91" y2="541.4" stroke="#000" stroke-width="1.3"/>
<line x1="107.91" y1="319.29999999999995" x2="107.91" y2="322.79999999999995" stroke="#000" stroke-width="1.3"/>
<line x1="118.05" y1="544.9" x2="118.05" y2="541.4" stroke="#000" stroke-width="1.3"/>
<line x1="118.05" y1="319.29999999999995" x2="118.05" y2="322.79999999999995" stroke="#000" stroke-width="1.3"/>
<line x1="128.19" y1="544.9" x2="128.19" y2="541.4" stroke="#000" stroke-width="1.3"/>
<line x1="128.19" y1="319.29999999999995" x2="128.19" y2="322.79999999999995" stroke="#000" stroke-width="1.3"/>
<line x1="138.33" y1="544.9" x2="138.33" y2="537.9" stroke="#000" stroke-width="1.3"/>
<line x1="138.33" y1="319.29999999999995" x2="138.33" y2="326.29999999999995" stroke="#000" stroke-width="1.3"/>
<line x1="148.47" y1="544.9" x2="148.47" y2="541.4" stroke="#000" stroke-width="1.3"/>
<line x1="148.47" y1="319.29999999999995" x2="148.47" y2="322.79999999999995" stroke="#000" stroke-width="1.3"/>
<line x1="158.60" y1="544.9" x2="158.60" y2="541.4" stroke="#000" stroke-width="1.3"/>
<line x1="158.60" y1="319.29999999999995" x2="158.60" y2="322.79999999999995" stroke="#000" stroke-width="1.3"/>
<line x1="168.74" y1="544.9" x2="168.74" y2="541.4" stroke="#000" stroke-width="1.3"/>
<line x1="168.74" y1="319.29999999999995" x2="168.74" y2="322.79999999999995" stroke="#000" stroke-width="1.3"/>
<line x1="178.88" y1="544.9" x2="178.88" y2="541.4" stroke="#000" stroke-width="1.3"/>
<line x1="178.88" y1="319.29999999999995" x2="178.88" y2="322.79999999999995" stroke="#000" stroke-width="1.3"/>
<line x1="189.02" y1="544.9" x2="189.02" y2="541.4" stroke="#000" stroke-width="1.3"/>
<line x1="189.02" y1="319.29999999999995" x2="189.02" y2="322.79999999999995" stroke="#000" stroke-width="1.3"/>
<line x1="199.16" y1="544.9" x2="199.16" y2="537.9" stroke="#000" stroke-width="1.3"/>
<line x1="199.16" y1="319.29999999999995" x2="199.16" y2="326.29999999999995" stroke="#000" stroke-width="1.3"/>
<line x1="209.29" y1="544.9" x2="209.29" y2="541.4" stroke="#000" stroke-width="1.3"/>
<line x1="209.29" y1="319.29999999999995" x2="209.29" y2="322.79999999999995" stroke="#000" stroke-width="1.3"/>
<line x1="219.43" y1="544.9" x2="219.43" y2="541.4" stroke="#000" stroke-width="1.3"/>
<line x1="219.43" y1="319.29999999999995" x2="219.43" y2="322.79999999999995" stroke="#000" stroke-width="1.3"/>
<line x1="229.57" y1="544.9" x2="229.57" y2="541.4" stroke="#000" stroke-width="1.3"/>
<line x1="229.57" y1="319.29999999999995" x2="229.57" y2="322.79999999999995" stroke="#000" stroke-width="1.3"/>
<line x1="239.71" y1="544.9" x2="239.71" y2="541.4" stroke="#000" stroke-width="1.3"/>
<line x1="239.71" y1="319.29999999999995" x2="239.71" y2="322.79999999999995" stroke="#000" stroke-width="1.3"/>
<line x1="249.85" y1="544.9" x2="249.85" y2="541.4" stroke="#000" stroke-width="1.3"/>
<line x1="249.85" y1="319.29999999999995" x2="249.85" y2="322.79999999999995" stroke="#000" stroke-width="1.3"/>
<line x1="259.98" y1="544.9" x2="259.98" y2="537.9" stroke="#000" stroke-width="1.3"/>
<line x1="259.98" y1="319.29999999999995" x2="259.98" y2="326.29999999999995" stroke="#000" stroke-width="1.3"/>
<line x1="270.12" y1="544.9" x2="270.12" y2="541.4" stroke="#000" stroke-width="1.3"/>
<line x1="270.12" y1="319.29999999999995" x2="270.12" y2="322.79999999999995" stroke="#000" stroke-width="1.3"/>
<line x1="280.26" y1="544.9" x2="280.26" y2="541.4" stroke="#000" stroke-width="1.3"/>
<line x1="280.26" y1="319.29999999999995" x2="280.26" y2="322.79999999999995" stroke="#000" stroke-width="1.3"/>
<line x1="290.40" y1="544.9" x2="290.40" y2="541.4" stroke="#000" stroke-width="1.3"/>
<line x1="290.40" y1="319.29999999999995" x2="290.40" y2="322.79999999999995" stroke="#000" stroke-width="1.3"/>
<line x1="300.54" y1="544.9" x2="300.54" y2="541.4" stroke="#000" stroke-width="1.3"/>
<line x1="300.54" y1="319.29999999999995" x2="300.54" y2="322.79999999999995" stroke="#000" stroke-width="1.3"/>
<line x1="310.67" y1="544.9" x2="310.67" y2="541.4" stroke="#000" stroke-width="1.3"/>
<line x1="310.67" y1="319.29999999999995" x2="310.67" y2="322.79999999999995" stroke="#000" stroke-width="1.3"/>
<line x1="320.81" y1="544.9" x2="320.81" y2="537.9" stroke="#000" stroke-width="1.3"/>
<line x1="320.81" y1="319.29999999999995" x2="320.81" y2="326.29999999999995" stroke="#000" stroke-width="1.3"/>
<line x1="77.5" y1="535.50" x2="80.8" y2="535.50" stroke="#000" stroke-width="1.3"/>
<line x1="326.89" y1="535.50" x2="323.59" y2="535.50" stroke="#1c2cff" stroke-width="1.3"/>
<line x1="77.5" y1="526.10" x2="80.8" y2="526.10" stroke="#000" stroke-width="1.3"/>
<line x1="326.89" y1="526.10" x2="323.59" y2="526.10" stroke="#1c2cff" stroke-width="1.3"/>
<line x1="77.5" y1="516.70" x2="80.8" y2="516.70" stroke="#000" stroke-width="1.3"/>
<line x1="326.89" y1="516.70" x2="323.59" y2="516.70" stroke="#1c2cff" stroke-width="1.3"/>
<line x1="77.5" y1="507.30" x2="83.5" y2="507.30" stroke="#000" stroke-width="1.3"/>
<line x1="326.89" y1="507.30" x2="320.89" y2="507.30" stroke="#1c2cff" stroke-width="1.3"/>
<line x1="77.5" y1="497.90" x2="80.8" y2="497.90" stroke="#000" stroke-width="1.3"/>
<line x1="326.89" y1="497.90" x2="323.59" y2="497.90" stroke="#1c2cff" stroke-width="1.3"/>
<line x1="77.5" y1="488.50" x2="80.8" y2="488.50" stroke="#000" stroke-width="1.3"/>
<line x1="326.89" y1="488.50" x2="323.59" y2="488.50" stroke="#1c2cff" stroke-width="1.3"/>
<line x1="77.5" y1="479.10" x2="80.8" y2="479.10" stroke="#000" stroke-width="1.3"/>
<line x1="326.89" y1="479.10" x2="323.59" y2="479.10" stroke="#1c2cff" stroke-width="1.3"/>
<line x1="77.5" y1="469.70" x2="83.5" y2="469.70" stroke="#000" stroke-width="1.3"/>
<line x1="326.89" y1="469.70" x2="320.89" y2="469.70" stroke="#1c2cff" stroke-width="1.3"/>
<line x1="77.5" y1="460.30" x2="80.8" y2="460.30" stroke="#000" stroke-width="1.3"/>
<line x1="326.89" y1="460.30" x2="323.59" y2="460.30" stroke="#1c2cff" stroke-width="1.3"/>
<line x1="77.5" y1="450.90" x2="80.8" y2="450.90" stroke="#000" stroke-width="1.3"/>
<line x1="326.89" y1="450.90" x2="323.59" y2="450.90" stroke="#1c2cff" stroke-width="1.3"/>
<line x1="77.5" y1="441.50" x2="80.8" y2="441.50" stroke="#000" stroke-width="1.3"/>
<line x1="326.89" y1="441.50" x2="323.59" y2="441.50" stroke="#1c2cff" stroke-width="1.3"/>
<line x1="77.5" y1="432.10" x2="83.5" y2="432.10" stroke="#000" stroke-width="1.3"/>
<line x1="326.89" y1="432.10" x2="320.89" y2="432.10" stroke="#1c2cff" stroke-width="1.3"/>
<line x1="77.5" y1="422.70" x2="80.8" y2="422.70" stroke="#000" stroke-width="1.3"/>
<line x1="326.89" y1="422.70" x2="323.59" y2="422.70" stroke="#1c2cff" stroke-width="1.3"/>
<line x1="77.5" y1="413.30" x2="80.8" y2="413.30" stroke="#000" stroke-width="1.3"/>
<line x1="326.89" y1="413.30" x2="323.59" y2="413.30" stroke="#1c2cff" stroke-width="1.3"/>
<line x1="77.5" y1="403.90" x2="80.8" y2="403.90" stroke="#000" stroke-width="1.3"/>
<line x1="326.89" y1="403.90" x2="323.59" y2="403.90" stroke="#1c2cff" stroke-width="1.3"/>
<line x1="77.5" y1="394.50" x2="83.5" y2="394.50" stroke="#000" stroke-width="1.3"/>
<line x1="326.89" y1="394.50" x2="320.89" y2="394.50" stroke="#1c2cff" stroke-width="1.3"/>
<line x1="77.5" y1="385.10" x2="80.8" y2="385.10" stroke="#000" stroke-width="1.3"/>
<line x1="326.89" y1="385.10" x2="323.59" y2="385.10" stroke="#1c2cff" stroke-width="1.3"/>
<line x1="77.5" y1="375.70" x2="80.8" y2="375.70" stroke="#000" stroke-width="1.3"/>
<line x1="326.89" y1="375.70" x2="323.59" y2="375.70" stroke="#1c2cff" stroke-width="1.3"/>
<line x1="77.5" y1="366.30" x2="80.8" y2="366.30" stroke="#000" stroke-width="1.3"/>
<line x1="326.89" y1="366.30" x2="323.59" y2="366.30" stroke="#1c2cff" stroke-width="1.3"/>
<line x1="77.5" y1="356.90" x2="83.5" y2="356.90" stroke="#000" stroke-width="1.3"/>
<line x1="326.89" y1="356.90" x2="320.89" y2="356.90" stroke="#1c2cff" stroke-width="1.3"/>
<line x1="77.5" y1="347.50" x2="80.8" y2="347.50" stroke="#000" stroke-width="1.3"/>
<line x1="326.89" y1="347.50" x2="323.59" y2="347.50" stroke="#1c2cff" stroke-width="1.3"/>
<line x1="77.5" y1="338.10" x2="80.8" y2="338.10" stroke="#000" stroke-width="1.3"/>
<line x1="326.89" y1="338.10" x2="323.59" y2="338.10" stroke="#1c2cff" stroke-width="1.3"/>
<line x1="77.5" y1="328.70" x2="80.8" y2="328.70" stroke="#000" stroke-width="1.3"/>
<line x1="326.89" y1="328.70" x2="323.59" y2="328.70" stroke="#1c2cff" stroke-width="1.3"/>
<text x="77.50" y="574.1" font-family="Liberation Sans, Arial, sans-serif" font-size="22" text-anchor="middle">0</text>
<text x="138.33" y="574.1" font-family="Liberation Sans, Arial, sans-serif" font-size="22" text-anchor="middle">0.3</text>
<text x="199.16" y="574.1" font-family="Liberation Sans, Arial, sans-serif" font-size="22" text-anchor="middle">0.6</text>
<text x="259.98" y="574.1" font-family="Liberation Sans, Arial, sans-serif" font-size="22" text-anchor="middle">0.9</text>
<text x="321.51" y="574.1" font-family="Liberation Sans, Arial, sans-serif" font-size="22" text-anchor="middle">1.2</text>
<text x="69.9" y="553.80" font-family="Liberation Sans, Arial, sans-serif" font-size="22" text-anchor="end">0</text>
<text x="334" y="553.80" font-family="Liberation Sans, Arial, sans-serif" font-size="22" fill="#1c2cff">0</text>
<text x="69.9" y="516.20" font-family="Liberation Sans, Arial, sans-serif" font-size="22" text-anchor="end">2</text>
<text x="334" y="516.20" font-family="Liberation Sans, Arial, sans-serif" font-size="22" fill="#1c2cff">2</text>
<text x="69.9" y="478.60" font-family="Liberation Sans, Arial, sans-serif" font-size="22" text-anchor="end">4</text>
<text x="334" y="478.60" font-family="Liberation Sans, Arial, sans-serif" font-size="22" fill="#1c2cff">4</text>
<text x="69.9" y="441.00" font-family="Liberation Sans, Arial, sans-serif" font-size="22" text-anchor="end">6</text>
<text x="334" y="441.00" font-family="Liberation Sans, Arial, sans-serif" font-size="22" fill="#1c2cff">6</text>
<text x="69.9" y="403.40" font-family="Liberation Sans, Arial, sans-serif" font-size="22" text-anchor="end">8</text>
<text x="334" y="403.40" font-family="Liberation Sans, Arial, sans-serif" font-size="22" fill="#1c2cff">8</text>
<text x="69.9" y="365.80" font-family="Liberation Sans, Arial, sans-serif" font-size="22" text-anchor="end">10</text>
<text x="334" y="365.80" font-family="Liberation Sans, Arial, sans-serif" font-size="22" fill="#1c2cff">10</text>
<circle cx="111.9" cy="347.2" r="5.3" fill="#000"/>
<text x="109.8" y="342.2" font-family="Liberation Sans, Arial, sans-serif" font-size="22" fill="#000" >10.5 %</text>
<ellipse cx="284.9" cy="411.6" rx="10.4" ry="66.4" fill="none" stroke="#1a35f5" stroke-width="2.8"/>
<line x1="180.20" y1="382.40" x2="113.60" y2="382.40" stroke="#2e62ff" stroke-width="2.1"/><polygon points="104.90,382.40 116.40,377.80 113.60,382.40 116.40,387.00" fill="#2e62ff"/>
<line x1="189.00" y1="383.00" x2="248.64" y2="388.41" stroke="#5a4cf0" stroke-width="2.1"/><polygon points="257.30,389.20 245.43,392.74 248.64,388.41 246.26,383.58" fill="#5a4cf0"/>
<line x1="315.90" y1="417.80" x2="276.87" y2="398.20" stroke="#3d9bff" stroke-width="2.1"/><polygon points="269.10,394.30 281.44,395.35 276.87,398.20 277.31,403.57" fill="#3d9bff"/>
<line x1="316.60" y1="448.40" x2="316.60" y2="430.80" stroke="#ff7f00" stroke-width="2.1"/><polygon points="316.60,422.10 321.20,433.60 316.60,430.80 312.00,433.60" fill="#ff7f00"/>
<line x1="295.70" y1="471.10" x2="313.60" y2="471.10" stroke="#1a35f5" stroke-width="2.1"/><polygon points="322.30,471.10 310.80,475.70 313.60,471.10 310.80,466.50" fill="#1a35f5"/>
<text x="132.3" y="405.0" font-family="Liberation Sans, Arial, sans-serif" font-size="22" fill="#2e62ff" >S</text>
<text x="146.8" y="416.2" font-family="Liberation Sans, Arial, sans-serif" font-size="18" fill="#2e62ff" >h</text>
<text x="202.8" y="410.9" font-family="Liberation Sans, Arial, sans-serif" font-size="22" fill="#5a4cf0" >R</text>
<text x="218.9" y="422.0" font-family="Liberation Sans, Arial, sans-serif" font-size="18" fill="#5a4cf0" >s</text>
<text x="301.0" y="402.4" font-family="Liberation Serif, Times New Roman, serif" font-size="23" fill="#3d9bff" font-style="italic">τ</text>
<text x="299.7" y="448.2" font-family="Liberation Sans, Arial, sans-serif" font-size="22" fill="#ff7f00" >L</text>
<text x="1.0" y="313.6" font-family="Liberation Serif, Times New Roman, serif" font-size="22.4" fill="#000" >(b)</text>
<text transform="translate(37.8,550.6) rotate(-90)" font-family="Liberation Serif, Times New Roman, serif" font-size="22.4" >HC-STH efficiency,</text>
<text transform="translate(37.8,363.3) rotate(-90)" font-family="Liberation Serif, Times New Roman, serif" font-size="22.4" font-style="italic">η</text>
<text transform="translate(37.8,346.3) rotate(-90)" font-family="Liberation Serif, Times New Roman, serif" font-size="22.4" >(%)</text>
<text transform="translate(389.5,561.1) rotate(-90)" font-family="Liberation Serif, Times New Roman, serif" font-size="22.4" fill="#1c2cff">Current density, J (mA cm</text>
<text transform="translate(378.8,323.4) rotate(-90)" font-family="Liberation Serif, Times New Roman, serif" font-size="18" fill="#1c2cff">-2</text>
<text transform="translate(389.5,309.7) rotate(-90)" font-family="Liberation Serif, Times New Roman, serif" font-size="22.4" fill="#1c2cff">)</text>
<text x="85.2" y="600.7" font-family="Liberation Serif, Times New Roman, serif" font-size="22.4" fill="#000" >Potential, V (versus RHE)</text></svg>
</body></html>
